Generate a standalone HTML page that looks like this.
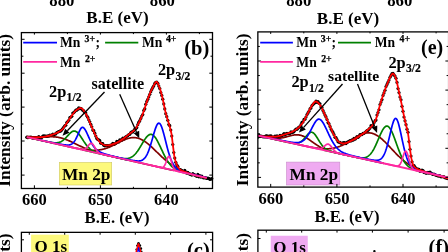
<!DOCTYPE html>
<html><head><meta charset="utf-8"><title>XPS Mn 2p</title>
<style>html,body{margin:0;padding:0;background:#fff;overflow:hidden}svg{display:block}</style>
</head><body>
<svg width="448" height="252" viewBox="0 0 448 252" font-family='"Liberation Serif", "DejaVu Serif", serif' font-weight="bold" fill="#000">
<rect width="448" height="252" fill="#fff"/>
<defs>
<clipPath id="clipb"><rect x="21.4" y="32.6" width="193.1" height="155.9"/></clipPath>
<clipPath id="clipe"><rect x="257.85" y="31.9" width="192.75" height="155.2"/></clipPath>
</defs>
<text x="61.8" y="6.2" font-size="16.7" text-anchor="middle" >880</text>
<text x="162.3" y="6.2" font-size="16.7" text-anchor="middle" >860</text>
<text x="117.5" y="23.0" font-size="17" text-anchor="middle" >B.E (eV)</text>
<text x="298.75" y="6.2" font-size="16.7" text-anchor="middle" >880</text>
<text x="399.75" y="6.2" font-size="16.7" text-anchor="middle" >860</text>
<text x="348" y="23.7" font-size="17" text-anchor="middle" >B.E (eV)</text>
<rect x="59.3" y="162.5" width="52.4" height="22.5" fill="#fdf97c" stroke="#cfc860" stroke-width="0.6"/>
<rect x="286.5" y="162.1" width="53.3" height="22.9" fill="#efaaf1" stroke="#c88aca" stroke-width="0.6"/>
<g clip-path="url(#clipb)">
<g fill="#000"><circle cx="26.80" cy="137.16" r="1.6"/><circle cx="27.80" cy="137.66" r="1.6"/><circle cx="28.80" cy="137.33" r="1.6"/><circle cx="29.80" cy="137.34" r="1.6"/><circle cx="30.80" cy="137.05" r="1.6"/><circle cx="31.80" cy="137.47" r="1.6"/><circle cx="32.80" cy="138.21" r="1.6"/><circle cx="33.80" cy="137.83" r="1.6"/><circle cx="34.80" cy="138.15" r="1.6"/><circle cx="35.80" cy="137.69" r="1.6"/><circle cx="36.80" cy="137.73" r="1.6"/><circle cx="37.80" cy="137.57" r="1.6"/><circle cx="38.80" cy="136.50" r="1.6"/><circle cx="39.80" cy="137.83" r="1.6"/><circle cx="40.80" cy="137.57" r="1.6"/><circle cx="41.80" cy="137.47" r="1.6"/><circle cx="42.80" cy="136.11" r="1.6"/><circle cx="43.80" cy="135.90" r="1.6"/><circle cx="44.80" cy="136.16" r="1.6"/><circle cx="45.80" cy="136.18" r="1.6"/><circle cx="46.80" cy="136.40" r="1.6"/><circle cx="47.80" cy="135.97" r="1.6"/><circle cx="48.80" cy="136.03" r="1.6"/><circle cx="49.80" cy="135.12" r="1.6"/><circle cx="50.80" cy="135.35" r="1.6"/><circle cx="51.80" cy="135.09" r="1.6"/><circle cx="52.80" cy="134.18" r="1.6"/><circle cx="53.80" cy="135.12" r="1.6"/><circle cx="54.80" cy="134.09" r="1.6"/><circle cx="55.80" cy="134.02" r="1.6"/><circle cx="56.80" cy="132.56" r="1.6"/><circle cx="57.80" cy="131.99" r="1.6"/><circle cx="58.80" cy="131.66" r="1.6"/><circle cx="59.80" cy="131.17" r="1.6"/><circle cx="60.80" cy="130.89" r="1.6"/><circle cx="61.80" cy="129.88" r="1.6"/><circle cx="62.80" cy="128.55" r="1.6"/><circle cx="63.80" cy="127.02" r="1.6"/><circle cx="64.80" cy="125.80" r="1.6"/><circle cx="65.80" cy="125.18" r="1.6"/><circle cx="66.80" cy="122.50" r="1.6"/><circle cx="67.80" cy="121.60" r="1.6"/><circle cx="68.80" cy="120.23" r="1.6"/><circle cx="69.80" cy="117.67" r="1.6"/><circle cx="70.80" cy="117.03" r="1.6"/><circle cx="71.80" cy="116.29" r="1.6"/><circle cx="72.80" cy="113.12" r="1.6"/><circle cx="73.80" cy="112.75" r="1.6"/><circle cx="74.80" cy="111.60" r="1.6"/><circle cx="75.80" cy="110.17" r="1.6"/><circle cx="76.80" cy="110.15" r="1.6"/><circle cx="77.80" cy="109.16" r="1.6"/><circle cx="78.80" cy="107.81" r="1.6"/><circle cx="79.80" cy="108.68" r="1.6"/><circle cx="80.80" cy="108.47" r="1.6"/><circle cx="81.80" cy="109.02" r="1.6"/><circle cx="82.80" cy="110.23" r="1.6"/><circle cx="83.80" cy="110.93" r="1.6"/><circle cx="84.80" cy="112.30" r="1.6"/><circle cx="85.80" cy="113.04" r="1.6"/><circle cx="86.80" cy="115.82" r="1.6"/><circle cx="87.80" cy="117.29" r="1.6"/><circle cx="88.80" cy="119.75" r="1.6"/><circle cx="89.80" cy="121.74" r="1.6"/><circle cx="90.80" cy="124.25" r="1.6"/><circle cx="91.80" cy="126.76" r="1.6"/><circle cx="92.80" cy="130.12" r="1.6"/><circle cx="93.80" cy="130.63" r="1.6"/><circle cx="94.80" cy="133.15" r="1.6"/><circle cx="95.80" cy="136.03" r="1.6"/><circle cx="96.80" cy="138.42" r="1.6"/><circle cx="97.80" cy="139.62" r="1.6"/><circle cx="98.80" cy="139.79" r="1.6"/><circle cx="99.80" cy="140.72" r="1.6"/><circle cx="100.80" cy="143.20" r="1.6"/><circle cx="101.80" cy="143.26" r="1.6"/><circle cx="102.80" cy="143.66" r="1.6"/><circle cx="103.80" cy="145.34" r="1.6"/><circle cx="104.80" cy="145.81" r="1.6"/><circle cx="105.80" cy="145.53" r="1.6"/><circle cx="106.80" cy="145.63" r="1.6"/><circle cx="107.80" cy="145.66" r="1.6"/><circle cx="108.80" cy="146.14" r="1.6"/><circle cx="109.80" cy="145.38" r="1.6"/><circle cx="110.80" cy="145.05" r="1.6"/><circle cx="111.80" cy="144.74" r="1.6"/><circle cx="112.80" cy="143.23" r="1.6"/><circle cx="113.80" cy="144.44" r="1.6"/><circle cx="114.80" cy="143.90" r="1.6"/><circle cx="115.80" cy="143.28" r="1.6"/><circle cx="116.80" cy="141.45" r="1.6"/><circle cx="117.80" cy="141.68" r="1.6"/><circle cx="118.80" cy="141.92" r="1.6"/><circle cx="119.80" cy="139.86" r="1.6"/><circle cx="120.80" cy="140.13" r="1.6"/><circle cx="121.80" cy="140.14" r="1.6"/><circle cx="122.80" cy="138.21" r="1.6"/><circle cx="123.80" cy="139.15" r="1.6"/><circle cx="124.80" cy="137.86" r="1.6"/><circle cx="125.80" cy="136.74" r="1.6"/><circle cx="126.80" cy="136.23" r="1.6"/><circle cx="127.80" cy="135.62" r="1.6"/><circle cx="128.80" cy="134.53" r="1.6"/><circle cx="129.80" cy="134.29" r="1.6"/><circle cx="130.80" cy="132.52" r="1.6"/><circle cx="131.80" cy="131.92" r="1.6"/><circle cx="132.80" cy="131.95" r="1.6"/><circle cx="133.80" cy="130.54" r="1.6"/><circle cx="134.80" cy="129.04" r="1.6"/><circle cx="135.80" cy="128.80" r="1.6"/><circle cx="136.80" cy="127.53" r="1.6"/><circle cx="137.80" cy="124.68" r="1.6"/><circle cx="138.80" cy="122.17" r="1.6"/><circle cx="139.80" cy="120.70" r="1.6"/><circle cx="140.80" cy="118.44" r="1.6"/><circle cx="141.80" cy="116.07" r="1.6"/><circle cx="142.80" cy="114.54" r="1.6"/><circle cx="143.80" cy="110.42" r="1.6"/><circle cx="144.80" cy="108.68" r="1.6"/><circle cx="145.80" cy="104.20" r="1.6"/><circle cx="146.80" cy="101.41" r="1.6"/><circle cx="147.80" cy="99.29" r="1.6"/><circle cx="148.80" cy="96.92" r="1.6"/><circle cx="149.80" cy="94.33" r="1.6"/><circle cx="150.80" cy="91.70" r="1.6"/><circle cx="151.80" cy="89.39" r="1.6"/><circle cx="152.80" cy="87.42" r="1.6"/><circle cx="153.80" cy="85.79" r="1.6"/><circle cx="154.80" cy="83.46" r="1.6"/><circle cx="155.80" cy="82.30" r="1.6"/><circle cx="156.80" cy="82.21" r="1.6"/><circle cx="157.80" cy="83.30" r="1.6"/><circle cx="158.80" cy="86.12" r="1.6"/><circle cx="159.80" cy="88.60" r="1.6"/><circle cx="160.80" cy="92.60" r="1.6"/><circle cx="161.80" cy="95.41" r="1.6"/><circle cx="162.80" cy="99.13" r="1.6"/><circle cx="163.80" cy="103.89" r="1.6"/><circle cx="164.80" cy="108.88" r="1.6"/><circle cx="165.80" cy="113.70" r="1.6"/><circle cx="166.80" cy="116.65" r="1.6"/><circle cx="167.80" cy="120.37" r="1.6"/><circle cx="168.80" cy="124.51" r="1.6"/><circle cx="169.80" cy="125.68" r="1.6"/><circle cx="170.80" cy="130.12" r="1.6"/><circle cx="171.80" cy="136.06" r="1.6"/><circle cx="172.80" cy="144.61" r="1.6"/><circle cx="173.80" cy="152.62" r="1.6"/><circle cx="174.80" cy="158.05" r="1.6"/><circle cx="175.80" cy="162.27" r="1.6"/><circle cx="176.80" cy="164.75" r="1.6"/><circle cx="177.80" cy="166.23" r="1.6"/><circle cx="178.80" cy="169.39" r="1.6"/><circle cx="179.80" cy="169.47" r="1.6"/><circle cx="180.80" cy="169.86" r="1.6"/><circle cx="181.80" cy="170.69" r="1.6"/><circle cx="182.80" cy="171.06" r="1.6"/><circle cx="183.80" cy="171.51" r="1.6"/><circle cx="184.80" cy="170.41" r="1.6"/><circle cx="185.80" cy="172.01" r="1.6"/><circle cx="186.80" cy="173.20" r="1.6"/><circle cx="187.80" cy="172.35" r="1.6"/><circle cx="188.80" cy="173.29" r="1.6"/><circle cx="189.80" cy="174.18" r="1.6"/><circle cx="190.80" cy="174.44" r="1.6"/><circle cx="191.80" cy="175.10" r="1.6"/><circle cx="192.80" cy="173.64" r="1.6"/><circle cx="193.80" cy="174.67" r="1.6"/><circle cx="194.80" cy="174.96" r="1.6"/><circle cx="195.80" cy="175.76" r="1.6"/><circle cx="196.80" cy="176.28" r="1.6"/><circle cx="197.80" cy="174.47" r="1.6"/><circle cx="198.80" cy="176.79" r="1.6"/><circle cx="199.80" cy="175.65" r="1.6"/><circle cx="200.80" cy="177.06" r="1.6"/><circle cx="201.80" cy="176.10" r="1.6"/><circle cx="202.80" cy="177.24" r="1.6"/><circle cx="203.80" cy="178.02" r="1.6"/><circle cx="204.80" cy="177.49" r="1.6"/><circle cx="205.80" cy="177.88" r="1.6"/><circle cx="206.80" cy="178.40" r="1.6"/><circle cx="207.80" cy="178.22" r="1.6"/><circle cx="208.80" cy="178.27" r="1.6"/><circle cx="209.80" cy="179.32" r="1.6"/><circle cx="210.80" cy="179.21" r="1.6"/><circle cx="211.80" cy="178.61" r="1.6"/></g>
<path d="M26.80,136.36 L27.30,136.41 L27.80,136.47 L28.30,136.52 L28.80,136.57 L29.30,136.62 L29.80,136.66 L30.30,136.71 L30.80,136.74 L31.30,136.78 L31.80,136.81 L32.30,136.84 L32.80,136.87 L33.30,136.89 L33.80,136.91 L34.30,136.93 L34.80,136.94 L35.30,136.95 L35.80,136.96 L36.30,136.97 L36.80,136.97 L37.30,136.97 L37.80,136.97 L38.30,136.97 L38.80,136.96 L39.30,136.96 L39.80,136.95 L40.30,136.93 L40.80,136.92 L41.30,136.91 L41.80,136.89 L42.30,136.87 L42.80,136.86 L43.30,136.84 L43.80,136.82 L44.30,136.80 L44.80,136.78 L45.30,136.77 L45.80,136.75 L46.30,136.73 L46.80,136.72 L47.30,136.71 L47.80,136.69 L48.30,136.69 L48.80,136.68 L49.30,136.68 L49.80,136.68 L50.30,136.68 L50.80,136.68 L51.30,136.69 L51.80,136.71 L52.30,136.73 L52.80,136.75 L53.30,136.78 L53.80,136.81 L54.30,136.85 L54.80,136.89 L55.30,136.94 L55.80,137.00 L56.30,137.06 L56.80,137.13 L57.30,137.20 L57.80,137.28 L58.30,137.37 L58.80,137.46 L59.30,137.57 L59.80,137.67 L60.30,137.79 L60.80,137.91 L61.30,138.03 L61.80,138.17 L62.30,138.31 L62.80,138.46 L63.30,138.61 L63.80,138.77 L64.30,138.93 L64.80,139.11 L65.30,139.28 L65.80,139.47 L66.30,139.66 L66.80,139.85 L67.30,140.05 L67.80,140.25 L68.30,140.46 L68.80,140.68 L69.30,140.89 L69.80,141.11 L70.30,141.34 L70.80,141.57 L71.30,141.80 L71.80,142.03 L72.30,142.27 L72.80,142.50 L73.30,142.74 L73.80,142.99 L74.30,143.23 L74.80,143.47 L75.30,143.72 L75.80,143.96 L76.30,144.20 L76.80,144.45 L77.30,144.69 L77.80,144.94 L78.30,145.18 L78.80,145.42 L79.30,145.66 L79.80,145.90 L80.30,146.14 L80.80,146.38 L81.30,146.61 L81.80,146.84 L82.30,147.07 L82.80,147.30 L83.30,147.52 L83.80,147.75 L84.30,147.97 L84.80,148.18 L85.30,148.40 L85.80,148.61 L86.30,148.82 L86.80,149.02 L87.30,149.22 L87.80,149.42 L88.30,149.62 L88.80,149.81 L89.30,150.00 L89.80,150.19 L90.30,150.38 L90.80,150.56 L91.30,150.74 L91.80,150.91 L92.30,151.09 L92.80,151.26 L93.30,151.42 L93.80,151.59 L94.30,151.75 L94.80,151.91 L95.30,152.07 L95.80,152.23 L96.30,152.38 L96.80,152.53 L97.30,152.68 L97.80,152.83 L98.30,152.97 L98.80,153.11 L99.30,153.25 L99.80,153.39 L100.30,153.53 L100.80,153.67 L101.30,153.80 L101.80,153.94 L102.30,154.07 L102.80,154.20 L103.30,154.33 L103.80,154.46 L104.30,154.59 L104.80,154.71 L105.30,154.84 L105.80,154.96 L106.30,155.09 L106.80,155.21 L107.30,155.33 L107.80,155.45 L108.30,155.57 L108.80,155.69 L109.30,155.81 L109.80,155.93 L110.30,156.05 L110.80,156.17 L111.30,156.29 L111.80,156.40 L112.30,156.52 L112.80,156.64 L113.30,156.75 L113.80,156.87 L114.30,156.99 L114.80,157.10 L115.30,157.22 L115.80,157.33 L116.30,157.45 L116.80,157.56 L117.30,157.68 L117.80,157.79 L118.30,157.91 L118.80,158.02 L119.30,158.14 L119.80,158.25 L120.30,158.36 L120.80,158.48 L121.30,158.59 L121.80,158.70 L122.30,158.82 L122.80,158.93 L123.30,159.05 L123.80,159.16 L124.30,159.27 L124.80,159.39 L125.30,159.50 L125.80,159.61 L126.30,159.73 L126.80,159.84 L127.30,159.95 L127.80,160.07 L128.30,160.18 L128.80,160.29 L129.30,160.41 L129.80,160.52 L130.30,160.63 L130.80,160.75 L131.30,160.86 L131.80,160.97 L132.30,161.09 L132.80,161.20 L133.30,161.31 L133.80,161.43 L134.30,161.54 L134.80,161.65 L135.30,161.77 L135.80,161.88 L136.30,161.99 L136.80,162.11 L137.30,162.22 L137.80,162.33 L138.30,162.45 L138.80,162.56 L139.30,162.67 L139.80,162.78 L140.30,162.90 L140.80,163.01 L141.30,163.12 L141.80,163.24 L142.30,163.35 L142.80,163.46 L143.30,163.58 L143.80,163.69 L144.30,163.80 L144.80,163.92 L145.30,164.03 L145.80,164.14 L146.30,164.26 L146.80,164.37 L147.30,164.48 L147.80,164.60 L148.30,164.71 L148.80,164.82 L149.30,164.94 L149.80,165.05 L150.30,165.16 L150.80,165.28 L151.30,165.39 L151.80,165.50 L152.30,165.62 L152.80,165.73 L153.30,165.84 L153.80,165.95 L154.30,166.07 L154.80,166.18 L155.30,166.29 L155.80,166.41 L156.30,166.52 L156.80,166.63 L157.30,166.75 L157.80,166.86 L158.30,166.97 L158.80,167.09 L159.30,167.20 L159.80,167.31 L160.30,167.43 L160.80,167.54 L161.30,167.65 L161.80,167.77 L162.30,167.88 L162.80,167.99 L163.30,168.11 L163.80,168.22 L164.30,168.33 L164.80,168.45 L165.30,168.56 L165.80,168.67 L166.30,168.78 L166.80,168.90 L167.30,169.01 L167.80,169.12 L168.30,169.24 L168.80,169.35 L169.30,169.46 L169.80,169.58 L170.30,169.69 L170.80,169.80 L171.30,169.92 L171.80,170.03 L172.30,170.14 L172.80,170.26 L173.30,170.37 L173.80,170.48" fill="none" stroke="#800000" stroke-width="1.7" stroke-linejoin="round"/>
<path d="M26.80,137.20 L27.30,137.31 L27.80,137.43 L28.30,137.54 L28.80,137.65 L29.30,137.77 L29.80,137.88 L30.30,137.99 L30.80,138.11 L31.30,138.22 L31.80,138.33 L32.30,138.45 L32.80,138.56 L33.30,138.67 L33.80,138.78 L34.30,138.90 L34.80,139.01 L35.30,139.12 L35.80,139.24 L36.30,139.35 L36.80,139.46 L37.30,139.58 L37.80,139.69 L38.30,139.80 L38.80,139.92 L39.30,140.03 L39.80,140.14 L40.30,140.26 L40.80,140.37 L41.30,140.48 L41.80,140.60 L42.30,140.71 L42.80,140.82 L43.30,140.94 L43.80,141.05 L44.30,141.16 L44.80,141.28 L45.30,141.39 L45.80,141.50 L46.30,141.61 L46.80,141.73 L47.30,141.84 L47.80,141.95 L48.30,142.07 L48.80,142.18 L49.30,142.29 L49.80,142.41 L50.30,142.52 L50.80,142.63 L51.30,142.75 L51.80,142.86 L52.30,142.97 L52.80,143.08 L53.30,143.20 L53.80,143.31 L54.30,143.42 L54.80,143.54 L55.30,143.65 L55.80,143.76 L56.30,143.87 L56.80,143.99 L57.30,144.10 L57.80,144.21 L58.30,144.33 L58.80,144.44 L59.30,144.55 L59.80,144.66 L60.30,144.77 L60.80,144.89 L61.30,145.00 L61.80,145.11 L62.30,145.22 L62.80,145.33 L63.30,145.45 L63.80,145.56 L64.30,145.67 L64.80,145.78 L65.30,145.89 L65.80,146.00 L66.30,146.11 L66.80,146.22 L67.30,146.33 L67.80,146.44 L68.30,146.55 L68.80,146.66 L69.30,146.77 L69.80,146.87 L70.30,146.98 L70.80,147.09 L71.30,147.19 L71.80,147.30 L72.30,147.40 L72.80,147.51 L73.30,147.61 L73.80,147.72 L74.30,147.82 L74.80,147.92 L75.30,148.02 L75.80,148.12 L76.30,148.22 L76.80,148.32 L77.30,148.41 L77.80,148.51 L78.30,148.60 L78.80,148.70 L79.30,148.79 L79.80,148.88 L80.30,148.97 L80.80,149.05 L81.30,149.14 L81.80,149.22 L82.30,149.30 L82.80,149.38 L83.30,149.45 L83.80,149.53 L84.30,149.60 L84.80,149.67 L85.30,149.74 L85.80,149.80 L86.30,149.86 L86.80,149.92 L87.30,149.97 L87.80,150.02 L88.30,150.07 L88.80,150.11 L89.30,150.15 L89.80,150.19 L90.30,150.22 L90.80,150.25 L91.30,150.27 L91.80,150.29 L92.30,150.31 L92.80,150.32 L93.30,150.32 L93.80,150.32 L94.30,150.31 L94.80,150.30 L95.30,150.28 L95.80,150.26 L96.30,150.23 L96.80,150.20 L97.30,150.16 L97.80,150.11 L98.30,150.06 L98.80,150.00 L99.30,149.93 L99.80,149.86 L100.30,149.78 L100.80,149.69 L101.30,149.60 L101.80,149.50 L102.30,149.39 L102.80,149.27 L103.30,149.15 L103.80,149.02 L104.30,148.89 L104.80,148.74 L105.30,148.59 L105.80,148.44 L106.30,148.27 L106.80,148.10 L107.30,147.93 L107.80,147.74 L108.30,147.55 L108.80,147.36 L109.30,147.15 L109.80,146.94 L110.30,146.73 L110.80,146.51 L111.30,146.28 L111.80,146.05 L112.30,145.82 L112.80,145.58 L113.30,145.34 L113.80,145.09 L114.30,144.84 L114.80,144.58 L115.30,144.33 L115.80,144.07 L116.30,143.81 L116.80,143.55 L117.30,143.29 L117.80,143.02 L118.30,142.76 L118.80,142.50 L119.30,142.24 L119.80,141.98 L120.30,141.72 L120.80,141.47 L121.30,141.22 L121.80,140.97 L122.30,140.73 L122.80,140.49 L123.30,140.26 L123.80,140.04 L124.30,139.82 L124.80,139.60 L125.30,139.40 L125.80,139.20 L126.30,139.02 L126.80,138.84 L127.30,138.67 L127.80,138.51 L128.30,138.37 L128.80,138.23 L129.30,138.11 L129.80,138.00 L130.30,137.90 L130.80,137.81 L131.30,137.74 L131.80,137.68 L132.30,137.64 L132.80,137.61 L133.30,137.59 L133.80,137.59 L134.30,137.60 L134.80,137.63 L135.30,137.68 L135.80,137.74 L136.30,137.82 L136.80,137.91 L137.30,138.02 L137.80,138.14 L138.30,138.28 L138.80,138.44 L139.30,138.61 L139.80,138.80 L140.30,139.00 L140.80,139.22 L141.30,139.45 L141.80,139.70 L142.30,139.96 L142.80,140.24 L143.30,140.53 L143.80,140.83 L144.30,141.15 L144.80,141.48 L145.30,141.82 L145.80,142.18 L146.30,142.54 L146.80,142.92 L147.30,143.31 L147.80,143.71 L148.30,144.12 L148.80,144.53 L149.30,144.96 L149.80,145.39 L150.30,145.84 L150.80,146.28 L151.30,146.74 L151.80,147.20 L152.30,147.66 L152.80,148.14 L153.30,148.61 L153.80,149.09 L154.30,149.57 L154.80,150.05 L155.30,150.54 L155.80,151.03 L156.30,151.52 L156.80,152.01 L157.30,152.49 L157.80,152.98 L158.30,153.47 L158.80,153.96 L159.30,154.44 L159.80,154.92 L160.30,155.40 L160.80,155.87 L161.30,156.35 L161.80,156.82 L162.30,157.28 L162.80,157.74 L163.30,158.19 L163.80,158.64 L164.30,159.09 L164.80,159.53 L165.30,159.96 L165.80,160.39 L166.30,160.81 L166.80,161.22 L167.30,161.63 L167.80,162.03 L168.30,162.42 L168.80,162.81 L169.30,163.19 L169.80,163.56 L170.30,163.93 L170.80,164.29 L171.30,164.64 L171.80,164.99 L172.30,165.33 L172.80,165.66 L173.30,165.98 L173.80,166.30 L174.30,166.61 L174.80,166.91 L175.30,167.21 L175.80,167.50 L176.30,167.78 L176.80,168.06 L177.30,168.33 L177.80,168.60 L178.30,168.86 L178.80,169.11 L179.30,169.36 L179.80,169.60 L180.30,169.83 L180.80,170.06 L181.30,170.29 L181.80,170.51 L182.30,170.72 L182.80,170.93 L183.30,171.14 L183.80,171.34 L184.30,171.54 L184.80,171.73 L185.30,171.92 L185.80,172.10 L186.30,172.29 L186.80,172.46 L187.30,172.64 L187.80,172.81 L188.30,172.98 L188.80,173.14 L189.30,173.30 L189.80,173.46 L190.30,173.62 L190.80,173.77 L191.30,173.92 L191.80,174.07 L192.30,174.22 L192.80,174.36 L193.30,174.51 L193.80,174.65 L194.30,174.79 L194.80,174.92 L195.30,175.06 L195.80,175.20 L196.30,175.33 L196.80,175.46 L197.30,175.59 L197.80,175.72 L198.30,175.85 L198.80,175.98 L199.30,176.10 L199.80,176.23 L200.30,176.35 L200.80,176.48 L201.30,176.60 L201.80,176.72 L202.30,176.84 L202.80,176.96 L203.30,177.08 L203.80,177.20 L204.30,177.32 L204.80,177.44 L205.30,177.56 L205.80,177.68 L206.30,177.80 L206.80,177.91" fill="none" stroke="#800000" stroke-width="1.7" stroke-linejoin="round"/>
<path d="M26.80,137.14 L27.30,137.25 L27.80,137.37 L28.30,137.48 L28.80,137.59 L29.30,137.70 L29.80,137.81 L30.30,137.93 L30.80,138.04 L31.30,138.15 L31.80,138.26 L32.30,138.37 L32.80,138.48 L33.30,138.60 L33.80,138.71 L34.30,138.82 L34.80,138.93 L35.30,139.04 L35.80,139.15 L36.30,139.26 L36.80,139.37 L37.30,139.49 L37.80,139.60 L38.30,139.71 L38.80,139.82 L39.30,139.93 L39.80,140.04 L40.30,140.15 L40.80,140.26 L41.30,140.37 L41.80,140.48 L42.30,140.59 L42.80,140.70 L43.30,140.81 L43.80,140.91 L44.30,141.02 L44.80,141.13 L45.30,141.24 L45.80,141.34 L46.30,141.45 L46.80,141.55 L47.30,141.66 L47.80,141.76 L48.30,141.86 L48.80,141.96 L49.30,142.05 L49.80,142.15 L50.30,142.24 L50.80,142.33 L51.30,142.41 L51.80,142.49 L52.30,142.56 L52.80,142.62 L53.30,142.68 L53.80,142.73 L54.30,142.77 L54.80,142.79 L55.30,142.81 L55.80,142.81 L56.30,142.79 L56.80,142.76 L57.30,142.71 L57.80,142.64 L58.30,142.54 L58.80,142.42 L59.30,142.28 L59.80,142.11 L60.30,141.91 L60.80,141.69 L61.30,141.43 L61.80,141.14 L62.30,140.82 L62.80,140.47 L63.30,140.09 L63.80,139.68 L64.30,139.24 L64.80,138.78 L65.30,138.29 L65.80,137.78 L66.30,137.26 L66.80,136.72 L67.30,136.18 L67.80,135.63 L68.30,135.08 L68.80,134.55 L69.30,134.02 L69.80,133.52 L70.30,133.05 L70.80,132.61 L71.30,132.21 L71.80,131.86 L72.30,131.57 L72.80,131.33 L73.30,131.16 L73.80,131.06 L74.30,131.03 L74.80,131.07 L75.30,131.19 L75.80,131.39 L76.30,131.66 L76.80,132.00 L77.30,132.42 L77.80,132.89 L78.30,133.42 L78.80,134.01 L79.30,134.64 L79.80,135.31 L80.30,136.02 L80.80,136.75 L81.30,137.50 L81.80,138.27 L82.30,139.04 L82.80,139.82 L83.30,140.59 L83.80,141.35 L84.30,142.10 L84.80,142.83 L85.30,143.54 L85.80,144.22 L86.30,144.88 L86.80,145.51 L87.30,146.11 L87.80,146.68 L88.30,147.22 L88.80,147.73 L89.30,148.21 L89.80,148.66 L90.30,149.08 L90.80,149.47 L91.30,149.83 L91.80,150.17 L92.30,150.49 L92.80,150.78 L93.30,151.05 L93.80,151.31 L94.30,151.55 L94.80,151.77 L95.30,151.98 L95.80,152.18 L96.30,152.36 L96.80,152.54 L97.30,152.71 L97.80,152.87 L98.30,153.02 L98.80,153.17 L99.30,153.31 L99.80,153.45 L100.30,153.59 L100.80,153.72 L101.30,153.85 L101.80,153.98 L102.30,154.10 L102.80,154.23 L103.30,154.35 L103.80,154.47 L104.30,154.59 L104.80,154.71 L105.30,154.83 L105.80,154.95 L106.30,155.07 L106.80,155.18 L107.30,155.30 L107.80,155.42 L108.30,155.54 L108.80,155.65 L109.30,155.77 L109.80,155.89 L110.30,156.00 L110.80,156.12 L111.30,156.23 L111.80,156.35 L112.30,156.46 L112.80,156.58 L113.30,156.70 L113.80,156.81 L114.30,156.93 L114.80,157.04 L115.30,157.16 L115.80,157.27 L116.30,157.39 L116.80,157.50 L117.30,157.62 L117.80,157.73 L118.30,157.85 L118.80,157.96 L119.30,158.08 L119.80,158.19 L120.30,158.31 L120.80,158.42 L121.30,158.53 L121.80,158.65 L122.30,158.76 L122.80,158.88 L123.30,158.99 L123.80,159.11 L124.30,159.22 L124.80,159.33 L125.30,159.45 L125.80,159.56 L126.30,159.68 L126.80,159.79 L127.30,159.91 L127.80,160.02 L128.30,160.13 L128.80,160.25" fill="none" stroke="#008000" stroke-width="1.7" stroke-linejoin="round"/>
<path d="M82.50,149.81 L83.00,149.92 L83.50,150.04 L84.00,150.15 L84.50,150.26 L85.00,150.38 L85.50,150.49 L86.00,150.60 L86.50,150.72 L87.00,150.83 L87.50,150.94 L88.00,151.06 L88.50,151.17 L89.00,151.28 L89.50,151.40 L90.00,151.51 L90.50,151.62 L91.00,151.74 L91.50,151.85 L92.00,151.96 L92.50,152.08 L93.00,152.19 L93.50,152.30 L94.00,152.42 L94.50,152.53 L95.00,152.64 L95.50,152.75 L96.00,152.87 L96.50,152.98 L97.00,153.09 L97.50,153.21 L98.00,153.32 L98.50,153.43 L99.00,153.55 L99.50,153.66 L100.00,153.77 L100.50,153.89 L101.00,154.00 L101.50,154.11 L102.00,154.23 L102.50,154.34 L103.00,154.45 L103.50,154.57 L104.00,154.68 L104.50,154.79 L105.00,154.91 L105.50,155.02 L106.00,155.13 L106.50,155.24 L107.00,155.36 L107.50,155.47 L108.00,155.58 L108.50,155.70 L109.00,155.81 L109.50,155.92 L110.00,156.03 L110.50,156.15 L111.00,156.26 L111.50,156.37 L112.00,156.48 L112.50,156.59 L113.00,156.70 L113.50,156.81 L114.00,156.92 L114.50,157.03 L115.00,157.14 L115.50,157.25 L116.00,157.35 L116.50,157.46 L117.00,157.56 L117.50,157.66 L118.00,157.76 L118.50,157.86 L119.00,157.95 L119.50,158.04 L120.00,158.13 L120.50,158.21 L121.00,158.29 L121.50,158.36 L122.00,158.43 L122.50,158.49 L123.00,158.54 L123.50,158.59 L124.00,158.62 L124.50,158.64 L125.00,158.65 L125.50,158.65 L126.00,158.63 L126.50,158.60 L127.00,158.55 L127.50,158.49 L128.00,158.40 L128.50,158.29 L129.00,158.16 L129.50,158.00 L130.00,157.82 L130.50,157.61 L131.00,157.37 L131.50,157.10 L132.00,156.79 L132.50,156.46 L133.00,156.09 L133.50,155.68 L134.00,155.24 L134.50,154.77 L135.00,154.26 L135.50,153.71 L136.00,153.12 L136.50,152.50 L137.00,151.85 L137.50,151.17 L138.00,150.45 L138.50,149.71 L139.00,148.94 L139.50,148.14 L140.00,147.33 L140.50,146.50 L141.00,145.66 L141.50,144.82 L142.00,143.97 L142.50,143.12 L143.00,142.28 L143.50,141.46 L144.00,140.65 L144.50,139.87 L145.00,139.12 L145.50,138.41 L146.00,137.73 L146.50,137.11 L147.00,136.54 L147.50,136.02 L148.00,135.57 L148.50,135.18 L149.00,134.87 L149.50,134.62 L150.00,134.46 L150.50,134.37 L151.00,134.36 L151.50,134.43 L152.00,134.59 L152.50,134.82 L153.00,135.14 L153.50,135.53 L154.00,136.00 L154.50,136.54 L155.00,137.15 L155.50,137.83 L156.00,138.57 L156.50,139.37 L157.00,140.22 L157.50,141.12 L158.00,142.06 L158.50,143.04 L159.00,144.05 L159.50,145.08 L160.00,146.13 L160.50,147.20 L161.00,148.27 L161.50,149.34 L162.00,150.42 L162.50,151.48 L163.00,152.54 L163.50,153.58 L164.00,154.60 L164.50,155.59 L165.00,156.56 L165.50,157.51 L166.00,158.42 L166.50,159.30 L167.00,160.14 L167.50,160.95 L168.00,161.73 L168.50,162.47 L169.00,163.17 L169.50,163.84 L170.00,164.47 L170.50,165.06 L171.00,165.62 L171.50,166.15 L172.00,166.65 L172.50,167.12 L173.00,167.55 L173.50,167.96 L174.00,168.35 L174.50,168.70 L175.00,169.04 L175.50,169.35 L176.00,169.65 L176.50,169.92 L177.00,170.18 L177.50,170.42 L178.00,170.65 L178.50,170.87 L179.00,171.07 L179.50,171.26 L180.00,171.45 L180.50,171.62 L181.00,171.79 L181.50,171.95 L182.00,172.10 L182.50,172.25 L183.00,172.40 L183.50,172.53 L184.00,172.67 L184.50,172.80 L185.00,172.93 L185.50,173.06 L186.00,173.18 L186.50,173.31 L187.00,173.43 L187.50,173.55 L188.00,173.67 L188.50,173.79 L189.00,173.91 L189.50,174.02 L190.00,174.14 L190.50,174.25 L191.00,174.37 L191.50,174.48 L192.00,174.60 L192.50,174.71 L193.00,174.83 L193.50,174.94 L194.00,175.05 L194.50,175.17 L195.00,175.28 L195.50,175.40 L196.00,175.51 L196.50,175.62 L197.00,175.74 L197.50,175.85 L198.00,175.96 L198.50,176.08 L199.00,176.19 L199.50,176.30 L200.00,176.41 L200.50,176.53 L201.00,176.64 L201.50,176.75 L202.00,176.87 L202.50,176.98 L203.00,177.09 L203.50,177.21 L204.00,177.32 L204.50,177.43 L205.00,177.55 L205.50,177.66 L206.00,177.77 L206.50,177.89" fill="none" stroke="#008000" stroke-width="1.7" stroke-linejoin="round"/>
<path d="M37.70,139.51 L38.20,139.62 L38.70,139.73 L39.20,139.84 L39.70,139.95 L40.20,140.06 L40.70,140.17 L41.20,140.28 L41.70,140.38 L42.20,140.49 L42.70,140.60 L43.20,140.71 L43.70,140.82 L44.20,140.93 L44.70,141.03 L45.20,141.14 L45.70,141.25 L46.20,141.36 L46.70,141.46 L47.20,141.57 L47.70,141.68 L48.20,141.78 L48.70,141.89 L49.20,141.99 L49.70,142.10 L50.20,142.20 L50.70,142.31 L51.20,142.41 L51.70,142.51 L52.20,142.62 L52.70,142.72 L53.20,142.82 L53.70,142.92 L54.20,143.02 L54.70,143.12 L55.20,143.22 L55.70,143.32 L56.20,143.42 L56.70,143.51 L57.20,143.61 L57.70,143.71 L58.20,143.80 L58.70,143.89 L59.20,143.98 L59.70,144.08 L60.20,144.16 L60.70,144.25 L61.20,144.34 L61.70,144.42 L62.20,144.50 L62.70,144.58 L63.20,144.65 L63.70,144.73 L64.20,144.79 L64.70,144.85 L65.20,144.91 L65.70,144.96 L66.20,145.00 L66.70,145.03 L67.20,145.04 L67.70,145.04 L68.20,145.02 L68.70,144.98 L69.20,144.91 L69.70,144.81 L70.20,144.67 L70.70,144.50 L71.20,144.27 L71.70,143.99 L72.20,143.65 L72.70,143.24 L73.20,142.76 L73.70,142.21 L74.20,141.58 L74.70,140.87 L75.20,140.08 L75.70,139.20 L76.20,138.26 L76.70,137.25 L77.20,136.18 L77.70,135.07 L78.20,133.94 L78.70,132.80 L79.20,131.69 L79.70,130.63 L80.20,129.65 L80.70,128.80 L81.20,128.12 L81.70,127.63 L82.20,127.37 L82.70,127.36 L83.20,127.55 L83.70,127.91 L84.20,128.41 L84.70,129.06 L85.20,129.82 L85.70,130.69 L86.20,131.65 L86.70,132.67 L87.20,133.74 L87.70,134.84 L88.20,135.95 L88.70,137.06 L89.20,138.17 L89.70,139.25 L90.20,140.30 L90.70,141.32 L91.20,142.30 L91.70,143.23 L92.20,144.11 L92.70,144.94 L93.20,145.72 L93.70,146.45 L94.20,147.13 L94.70,147.76 L95.20,148.34 L95.70,148.87 L96.20,149.36 L96.70,149.81 L97.20,150.23 L97.70,150.61 L98.20,150.96 L98.70,151.28 L99.20,151.58 L99.70,151.86 L100.20,152.11 L100.70,152.35 L101.20,152.58 L101.70,152.79 L102.20,152.99 L102.70,153.18 L103.20,153.36 L103.70,153.53 L104.20,153.70 L104.70,153.87 L105.20,154.02 L105.70,154.18 L106.20,154.33 L106.70,154.48 L107.20,154.62 L107.70,154.77 L108.20,154.91 L108.70,155.05 L109.20,155.19 L109.70,155.32 L110.20,155.46 L110.70,155.59 L111.20,155.73 L111.70,155.86 L112.20,155.99 L112.70,156.12 L113.20,156.25 L113.70,156.38 L114.20,156.51 L114.70,156.63 L115.20,156.76 L115.70,156.89 L116.20,157.01 L116.70,157.14 L117.20,157.26 L117.70,157.39 L118.20,157.51 L118.70,157.63 L119.20,157.76 L119.70,157.88 L120.20,158.00 L120.70,158.12 L121.20,158.24 L121.70,158.37 L122.20,158.49 L122.70,158.61 L123.20,158.73 L123.70,158.85 L124.20,158.97 L124.70,159.09 L125.20,159.21 L125.70,159.33 L126.20,159.45 L126.70,159.56 L127.20,159.68 L127.70,159.80" fill="none" stroke="#0000ff" stroke-width="1.7" stroke-linejoin="round"/>
<path d="M111.10,156.05 L111.60,156.16 L112.10,156.27 L112.60,156.37 L113.10,156.48 L113.60,156.59 L114.10,156.70 L114.60,156.80 L115.10,156.91 L115.60,157.02 L116.10,157.12 L116.60,157.23 L117.10,157.34 L117.60,157.44 L118.10,157.55 L118.60,157.65 L119.10,157.76 L119.60,157.86 L120.10,157.97 L120.60,158.07 L121.10,158.18 L121.60,158.28 L122.10,158.38 L122.60,158.49 L123.10,158.59 L123.60,158.69 L124.10,158.79 L124.60,158.89 L125.10,158.99 L125.60,159.09 L126.10,159.19 L126.60,159.29 L127.10,159.39 L127.60,159.49 L128.10,159.59 L128.60,159.68 L129.10,159.78 L129.60,159.87 L130.10,159.96 L130.60,160.05 L131.10,160.14 L131.60,160.23 L132.10,160.32 L132.60,160.40 L133.10,160.48 L133.60,160.56 L134.10,160.64 L134.60,160.71 L135.10,160.77 L135.60,160.83 L136.10,160.88 L136.60,160.93 L137.10,160.96 L137.60,160.98 L138.10,160.99 L138.60,160.98 L139.10,160.95 L139.60,160.90 L140.10,160.82 L140.60,160.72 L141.10,160.57 L141.60,160.39 L142.10,160.17 L142.60,159.90 L143.10,159.57 L143.60,159.18 L144.10,158.73 L144.60,158.21 L145.10,157.61 L145.60,156.92 L146.10,156.15 L146.60,155.29 L147.10,154.33 L147.60,153.28 L148.10,152.13 L148.60,150.88 L149.10,149.54 L149.60,148.11 L150.10,146.59 L150.60,145.00 L151.10,143.34 L151.60,141.63 L152.10,139.88 L152.60,138.11 L153.10,136.33 L153.60,134.57 L154.10,132.84 L154.60,131.18 L155.10,129.61 L155.60,128.15 L156.10,126.83 L156.60,125.68 L157.10,124.71 L157.60,123.96 L158.10,123.44 L158.60,123.17 L159.10,123.15 L159.60,123.40 L160.10,123.90 L160.60,124.64 L161.10,125.62 L161.60,126.81 L162.10,128.19 L162.60,129.73 L163.10,131.42 L163.60,133.22 L164.10,135.11 L164.60,137.06 L165.10,139.05 L165.60,141.05 L166.10,143.05 L166.60,145.03 L167.10,146.97 L167.60,148.85 L168.10,150.67 L168.60,152.41 L169.10,154.07 L169.60,155.63 L170.10,157.11 L170.60,158.48 L171.10,159.76 L171.60,160.95 L172.10,162.04 L172.60,163.03 L173.10,163.94 L173.60,164.77 L174.10,165.52 L174.60,166.20 L175.10,166.82 L175.60,167.37 L176.10,167.87 L176.60,168.32 L177.10,168.73 L177.60,169.09 L178.10,169.43 L178.60,169.73 L179.10,170.01 L179.60,170.26 L180.10,170.50 L180.60,170.72 L181.10,170.92 L181.60,171.12 L182.10,171.30 L182.60,171.47 L183.10,171.64 L183.60,171.80 L184.10,171.96 L184.60,172.11 L185.10,172.26 L185.60,172.40 L186.10,172.54 L186.60,172.68 L187.10,172.82 L187.60,172.96 L188.10,173.09 L188.60,173.23 L189.10,173.36 L189.60,173.49 L190.10,173.62 L190.60,173.75 L191.10,173.88 L191.60,174.01 L192.10,174.14 L192.60,174.26 L193.10,174.39 L193.60,174.52 L194.10,174.64 L194.60,174.77 L195.10,174.89 L195.60,175.02 L196.10,175.14 L196.60,175.26 L197.10,175.39 L197.60,175.51 L198.10,175.63 L198.60,175.75 L199.10,175.87 L199.60,175.99 L200.10,176.11 L200.60,176.24 L201.10,176.36 L201.60,176.48 L202.10,176.60 L202.60,176.72 L203.10,176.84 L203.60,176.95 L204.10,177.07 L204.60,177.19 L205.10,177.31 L205.60,177.43 L206.10,177.55 L206.60,177.67" fill="none" stroke="#0000ff" stroke-width="1.7" stroke-linejoin="round"/>
<path d="M67.50,146.42 L68.00,146.53 L68.50,146.64 L69.00,146.75 L69.50,146.87 L70.00,146.98 L70.50,147.09 L71.00,147.21 L71.50,147.32 L72.00,147.43 L72.50,147.55 L73.00,147.66 L73.50,147.77 L74.00,147.89 L74.50,148.00 L75.00,148.11 L75.50,148.23 L76.00,148.34 L76.50,148.45 L77.00,148.57 L77.50,148.68 L78.00,148.79 L78.50,148.90 L79.00,149.01 L79.50,149.12 L80.00,149.22 L80.50,149.31 L81.00,149.40 L81.50,149.47 L82.00,149.53 L82.50,149.56 L83.00,149.55 L83.50,149.51 L84.00,149.41 L84.50,149.25 L85.00,149.01 L85.50,148.70 L86.00,148.31 L86.50,147.84 L87.00,147.29 L87.50,146.69 L88.00,146.06 L88.50,145.41 L89.00,144.80 L89.50,144.25 L90.00,143.80 L90.50,143.48 L91.00,143.33 L91.50,143.35 L92.00,143.55 L92.50,143.94 L93.00,144.48 L93.50,145.15 L94.00,145.93 L94.50,146.77 L95.00,147.64 L95.50,148.50 L96.00,149.33 L96.50,150.10 L97.00,150.80 L97.50,151.42 L98.00,151.96 L98.50,152.42 L99.00,152.80 L99.50,153.13 L100.00,153.40 L100.50,153.63 L101.00,153.83 L101.50,154.00 L102.00,154.15 L102.50,154.29 L103.00,154.43 L103.50,154.55 L104.00,154.67 L104.50,154.79 L105.00,154.90 L105.50,155.02 L106.00,155.13 L106.50,155.24 L107.00,155.36 L107.50,155.47 L108.00,155.58 L108.50,155.70 L109.00,155.81 L109.50,155.92 L110.00,156.04 L110.50,156.15 L111.00,156.26 L111.50,156.38 L112.00,156.49 L112.50,156.60 L113.00,156.72 L113.50,156.83 L114.00,156.94 L114.50,157.06 L115.00,157.17 L115.50,157.28" fill="none" stroke="#ff28a0" stroke-width="1.7" stroke-linejoin="round"/>
<path d="M151.00,165.32 L151.50,165.43 L152.00,165.55 L152.50,165.66 L153.00,165.77 L153.50,165.89 L154.00,166.00 L154.50,166.11 L155.00,166.23 L155.50,166.34 L156.00,166.45 L156.50,166.57 L157.00,166.68 L157.50,166.79 L158.00,166.90 L158.50,167.02 L159.00,167.13 L159.50,167.23 L160.00,167.33 L160.50,167.42 L161.00,167.49 L161.50,167.53 L162.00,167.51 L162.50,167.42 L163.00,167.23 L163.50,166.89 L164.00,166.37 L164.50,165.64 L165.00,164.70 L165.50,163.54 L166.00,162.22 L166.50,160.80 L167.00,159.39 L167.50,158.12 L168.00,157.13 L168.50,156.53 L169.00,156.40 L169.50,156.76 L170.00,157.59 L170.50,158.80 L171.00,160.30 L171.50,161.93 L172.00,163.58 L172.50,165.13 L173.00,166.51 L173.50,167.68 L174.00,168.63 L174.50,169.38 L175.00,169.94 L175.50,170.37 L176.00,170.68 L176.50,170.92 L177.00,171.11 L177.50,171.27 L178.00,171.41 L178.50,171.53 L179.00,171.65 L179.50,171.77 L180.00,171.89 L180.50,172.00 L181.00,172.11 L181.50,172.23 L182.00,172.34 L182.50,172.45 L183.00,172.57 L183.50,172.68 L184.00,172.79 L184.50,172.91 L185.00,173.02 L185.50,173.13 L186.00,173.25 L186.50,173.36 L187.00,173.47" fill="none" stroke="#ff28a0" stroke-width="1.7" stroke-linejoin="round"/>
<path d="M26.80,137.30 L27.30,137.34 L27.80,137.38 L28.30,137.42 L28.80,137.45 L29.30,137.48 L29.80,137.51 L30.30,137.54 L30.80,137.56 L31.30,137.57 L31.80,137.59 L32.30,137.60 L32.80,137.60 L33.30,137.60 L33.80,137.60 L34.30,137.59 L34.80,137.58 L35.30,137.57 L35.80,137.55 L36.30,137.54 L36.80,137.52 L37.30,137.49 L37.80,137.47 L38.30,137.44 L38.80,137.42 L39.30,137.39 L39.80,137.36 L40.30,137.33 L40.80,137.29 L41.30,137.25 L41.80,137.19 L42.30,137.12 L42.80,137.04 L43.30,136.95 L43.80,136.86 L44.30,136.75 L44.80,136.65 L45.30,136.55 L45.80,136.44 L46.30,136.34 L46.80,136.23 L47.30,136.12 L47.80,136.00 L48.30,135.87 L48.80,135.75 L49.30,135.61 L49.80,135.47 L50.30,135.33 L50.80,135.18 L51.30,135.03 L51.80,134.87 L52.30,134.71 L52.80,134.54 L53.30,134.36 L53.80,134.18 L54.30,133.99 L54.80,133.79 L55.30,133.58 L55.80,133.36 L56.30,133.13 L56.80,132.90 L57.30,132.65 L57.80,132.39 L58.30,132.13 L58.80,131.84 L59.30,131.55 L59.80,131.23 L60.30,130.90 L60.80,130.54 L61.30,130.16 L61.80,129.75 L62.30,129.31 L62.80,128.80 L63.30,128.21 L63.80,127.55 L64.30,126.83 L64.80,126.08 L65.30,125.30 L65.80,124.51 L66.30,123.72 L66.80,122.94 L67.30,122.19 L67.80,121.47 L68.30,120.74 L68.80,119.99 L69.30,119.24 L69.80,118.49 L70.30,117.74 L70.80,117.00 L71.30,116.28 L71.80,115.57 L72.30,114.88 L72.80,114.23 L73.30,113.58 L73.80,112.93 L74.30,112.28 L74.80,111.66 L75.30,111.10 L75.80,110.62 L76.30,110.23 L76.80,109.88 L77.30,109.53 L77.80,109.20 L78.30,108.89 L78.80,108.62 L79.30,108.40 L79.80,108.23 L80.30,108.13 L80.80,108.10 L81.30,108.22 L81.80,108.50 L82.30,108.91 L82.80,109.43 L83.30,110.05 L83.80,110.73 L84.30,111.47 L84.80,112.23 L85.30,113.00 L85.80,113.75 L86.30,114.56 L86.80,115.48 L87.30,116.51 L87.80,117.62 L88.30,118.79 L88.80,120.00 L89.30,121.22 L89.80,122.44 L90.30,123.63 L90.80,124.78 L91.30,125.90 L91.80,127.05 L92.30,128.23 L92.80,129.41 L93.30,130.59 L93.80,131.75 L94.30,132.87 L94.80,133.95 L95.30,134.96 L95.80,135.90 L96.30,136.77 L96.80,137.63 L97.30,138.48 L97.80,139.30 L98.30,140.09 L98.80,140.83 L99.30,141.51 L99.80,142.10 L100.30,142.60 L100.80,143.00 L101.30,143.34 L101.80,143.67 L102.30,143.98 L102.80,144.28 L103.30,144.56 L103.80,144.81 L104.30,145.02 L104.80,145.21 L105.30,145.35 L105.80,145.45 L106.30,145.50 L106.80,145.50 L107.30,145.47 L107.80,145.42 L108.30,145.35 L108.80,145.27 L109.30,145.16 L109.80,145.04 L110.30,144.91 L110.80,144.76 L111.30,144.61 L111.80,144.44 L112.30,144.27 L112.80,144.10 L113.30,143.92 L113.80,143.73 L114.30,143.55 L114.80,143.37 L115.30,143.19 L115.80,142.99 L116.30,142.77 L116.80,142.54 L117.30,142.29 L117.80,142.02 L118.30,141.75 L118.80,141.46 L119.30,141.16 L119.80,140.86 L120.30,140.54 L120.80,140.23 L121.30,139.90 L121.80,139.58 L122.30,139.25 L122.80,138.93 L123.30,138.60 L123.80,138.27 L124.30,137.92 L124.80,137.56 L125.30,137.19 L125.80,136.82 L126.30,136.44 L126.80,136.05 L127.30,135.66 L127.80,135.26 L128.30,134.86 L128.80,134.46 L129.30,134.06 L129.80,133.66 L130.30,133.26 L130.80,132.88 L131.30,132.51 L131.80,132.15 L132.30,131.77 L132.80,131.38 L133.30,130.97 L133.80,130.53 L134.30,130.05 L134.80,129.52 L135.30,128.94 L135.80,128.28 L136.30,127.54 L136.80,126.73 L137.30,125.86 L137.80,124.93 L138.30,123.95 L138.80,122.93 L139.30,121.87 L139.80,120.78 L140.30,119.66 L140.80,118.53 L141.30,117.38 L141.80,116.23 L142.30,115.05 L142.80,113.77 L143.30,112.41 L143.80,110.98 L144.30,109.50 L144.80,107.99 L145.30,106.45 L145.80,104.90 L146.30,103.36 L146.80,101.85 L147.30,100.37 L147.80,98.94 L148.30,97.58 L148.80,96.30 L149.30,95.07 L149.80,93.86 L150.30,92.67 L150.80,91.51 L151.30,90.39 L151.80,89.31 L152.30,88.29 L152.80,87.34 L153.30,86.44 L153.80,85.48 L154.30,84.49 L154.80,83.56 L155.30,82.75 L155.80,82.15 L156.30,81.83 L156.80,81.89 L157.30,82.42 L157.80,83.30 L158.30,84.43 L158.80,85.70 L159.30,87.00 L159.80,88.29 L160.30,89.79 L160.80,91.49 L161.30,93.32 L161.80,95.23 L162.30,97.20 L162.80,99.37 L163.30,101.69 L163.80,104.10 L164.30,106.52 L164.80,108.89 L165.30,111.14 L165.80,113.20 L166.30,115.07 L166.80,116.83 L167.30,118.52 L167.80,120.16 L168.30,121.81 L168.80,123.50 L169.30,125.26 L169.80,127.09 L170.30,128.85 L170.80,130.74 L171.30,132.97 L171.80,135.92 L172.30,140.02 L172.80,144.39 L173.30,148.40 L173.80,152.49 L174.30,155.97 L174.80,158.29 L175.30,160.22 L175.80,161.91 L176.30,163.36 L176.80,164.59 L177.30,165.63 L177.80,166.52 L178.30,167.32 L178.80,168.05 L179.30,168.70 L179.80,169.28 L180.30,169.77 L180.80,170.17 L181.30,170.48 L181.80,170.75 L182.30,170.98 L182.80,171.18 L183.30,171.37 L183.80,171.55 L184.30,171.73 L184.80,171.91 L185.30,172.10 L185.80,172.28 L186.30,172.46 L186.80,172.64 L187.30,172.82 L187.80,172.99 L188.30,173.16 L188.80,173.33 L189.30,173.49 L189.80,173.65 L190.30,173.81 L190.80,173.97 L191.30,174.13 L191.80,174.28 L192.30,174.43 L192.80,174.58 L193.30,174.72 L193.80,174.87 L194.30,175.01 L194.80,175.15 L195.30,175.28 L195.80,175.42 L196.30,175.55 L196.80,175.68 L197.30,175.81 L197.80,175.94 L198.30,176.07 L198.80,176.20 L199.30,176.32 L199.80,176.44 L200.30,176.56 L200.80,176.68 L201.30,176.80 L201.80,176.92 L202.30,177.03 L202.80,177.14 L203.30,177.25 L203.80,177.36 L204.30,177.47 L204.80,177.57 L205.30,177.67 L205.80,177.77 L206.30,177.87 L206.80,177.96" fill="none" stroke="#ff0000" stroke-width="1.8" stroke-linejoin="round"/>
<path d="M26.8,137.2 L206.8,177.95" fill="none" stroke="#ff28a0" stroke-width="1.8"/>
</g>
<line x1="104.5" y1="92" x2="67.34" y2="130.75" stroke="#000" stroke-width="1.3"/>
<polygon points="62.50,135.80 65.18,128.67 69.51,132.82" fill="#000"/>
<line x1="119.7" y1="94.3" x2="136.45" y2="131.91" stroke="#000" stroke-width="1.3"/>
<polygon points="139.30,138.30 133.71,133.13 139.19,130.68" fill="#000"/>
<g clip-path="url(#clipe)">
<g fill="#000"><circle cx="258.00" cy="137.11" r="1.6"/><circle cx="259.00" cy="135.15" r="1.6"/><circle cx="260.00" cy="136.47" r="1.6"/><circle cx="261.00" cy="135.99" r="1.6"/><circle cx="262.00" cy="136.36" r="1.6"/><circle cx="263.00" cy="136.80" r="1.6"/><circle cx="264.00" cy="136.64" r="1.6"/><circle cx="265.00" cy="136.93" r="1.6"/><circle cx="266.00" cy="135.76" r="1.6"/><circle cx="267.00" cy="135.77" r="1.6"/><circle cx="268.00" cy="136.94" r="1.6"/><circle cx="269.00" cy="136.07" r="1.6"/><circle cx="270.00" cy="136.04" r="1.6"/><circle cx="271.00" cy="135.79" r="1.6"/><circle cx="272.00" cy="137.30" r="1.6"/><circle cx="273.00" cy="137.01" r="1.6"/><circle cx="274.00" cy="137.41" r="1.6"/><circle cx="275.00" cy="136.08" r="1.6"/><circle cx="276.00" cy="136.53" r="1.6"/><circle cx="277.00" cy="135.76" r="1.6"/><circle cx="278.00" cy="136.63" r="1.6"/><circle cx="279.00" cy="136.88" r="1.6"/><circle cx="280.00" cy="135.31" r="1.6"/><circle cx="281.00" cy="136.43" r="1.6"/><circle cx="282.00" cy="135.84" r="1.6"/><circle cx="283.00" cy="134.89" r="1.6"/><circle cx="284.00" cy="133.57" r="1.6"/><circle cx="285.00" cy="135.10" r="1.6"/><circle cx="286.00" cy="133.96" r="1.6"/><circle cx="287.00" cy="133.37" r="1.6"/><circle cx="288.00" cy="133.60" r="1.6"/><circle cx="289.00" cy="133.27" r="1.6"/><circle cx="290.00" cy="133.52" r="1.6"/><circle cx="291.00" cy="131.74" r="1.6"/><circle cx="292.00" cy="132.49" r="1.6"/><circle cx="293.00" cy="132.19" r="1.6"/><circle cx="294.00" cy="131.62" r="1.6"/><circle cx="295.00" cy="130.11" r="1.6"/><circle cx="296.00" cy="129.13" r="1.6"/><circle cx="297.00" cy="129.36" r="1.6"/><circle cx="298.00" cy="128.04" r="1.6"/><circle cx="299.00" cy="127.11" r="1.6"/><circle cx="300.00" cy="126.78" r="1.6"/><circle cx="301.00" cy="124.71" r="1.6"/><circle cx="302.00" cy="122.34" r="1.6"/><circle cx="303.00" cy="121.94" r="1.6"/><circle cx="304.00" cy="119.47" r="1.6"/><circle cx="305.00" cy="119.13" r="1.6"/><circle cx="306.00" cy="116.98" r="1.6"/><circle cx="307.00" cy="114.61" r="1.6"/><circle cx="308.00" cy="112.90" r="1.6"/><circle cx="309.00" cy="111.27" r="1.6"/><circle cx="310.00" cy="108.89" r="1.6"/><circle cx="311.00" cy="107.92" r="1.6"/><circle cx="312.00" cy="105.53" r="1.6"/><circle cx="313.00" cy="104.52" r="1.6"/><circle cx="314.00" cy="103.40" r="1.6"/><circle cx="315.00" cy="102.59" r="1.6"/><circle cx="316.00" cy="101.16" r="1.6"/><circle cx="317.00" cy="102.41" r="1.6"/><circle cx="318.00" cy="101.68" r="1.6"/><circle cx="319.00" cy="103.15" r="1.6"/><circle cx="320.00" cy="103.81" r="1.6"/><circle cx="321.00" cy="106.91" r="1.6"/><circle cx="322.00" cy="107.63" r="1.6"/><circle cx="323.00" cy="110.58" r="1.6"/><circle cx="324.00" cy="112.80" r="1.6"/><circle cx="325.00" cy="115.04" r="1.6"/><circle cx="326.00" cy="116.89" r="1.6"/><circle cx="327.00" cy="119.52" r="1.6"/><circle cx="328.00" cy="122.58" r="1.6"/><circle cx="329.00" cy="123.82" r="1.6"/><circle cx="330.00" cy="126.39" r="1.6"/><circle cx="331.00" cy="129.04" r="1.6"/><circle cx="332.00" cy="130.75" r="1.6"/><circle cx="333.00" cy="132.38" r="1.6"/><circle cx="334.00" cy="134.69" r="1.6"/><circle cx="335.00" cy="137.36" r="1.6"/><circle cx="336.00" cy="137.58" r="1.6"/><circle cx="337.00" cy="139.66" r="1.6"/><circle cx="338.00" cy="141.68" r="1.6"/><circle cx="339.00" cy="142.24" r="1.6"/><circle cx="340.00" cy="142.36" r="1.6"/><circle cx="341.00" cy="143.27" r="1.6"/><circle cx="342.00" cy="143.27" r="1.6"/><circle cx="343.00" cy="142.73" r="1.6"/><circle cx="344.00" cy="142.52" r="1.6"/><circle cx="345.00" cy="142.90" r="1.6"/><circle cx="346.00" cy="143.53" r="1.6"/><circle cx="347.00" cy="142.39" r="1.6"/><circle cx="348.00" cy="141.81" r="1.6"/><circle cx="349.00" cy="141.45" r="1.6"/><circle cx="350.00" cy="140.57" r="1.6"/><circle cx="351.00" cy="140.88" r="1.6"/><circle cx="352.00" cy="139.85" r="1.6"/><circle cx="353.00" cy="140.24" r="1.6"/><circle cx="354.00" cy="138.23" r="1.6"/><circle cx="355.00" cy="139.15" r="1.6"/><circle cx="356.00" cy="138.03" r="1.6"/><circle cx="357.00" cy="136.69" r="1.6"/><circle cx="358.00" cy="137.52" r="1.6"/><circle cx="359.00" cy="136.31" r="1.6"/><circle cx="360.00" cy="134.57" r="1.6"/><circle cx="361.00" cy="134.64" r="1.6"/><circle cx="362.00" cy="134.57" r="1.6"/><circle cx="363.00" cy="133.41" r="1.6"/><circle cx="364.00" cy="133.32" r="1.6"/><circle cx="365.00" cy="132.52" r="1.6"/><circle cx="366.00" cy="131.67" r="1.6"/><circle cx="367.00" cy="130.66" r="1.6"/><circle cx="368.00" cy="130.37" r="1.6"/><circle cx="369.00" cy="129.11" r="1.6"/><circle cx="370.00" cy="128.05" r="1.6"/><circle cx="371.00" cy="125.67" r="1.6"/><circle cx="372.00" cy="126.24" r="1.6"/><circle cx="373.00" cy="125.22" r="1.6"/><circle cx="374.00" cy="122.83" r="1.6"/><circle cx="375.00" cy="120.93" r="1.6"/><circle cx="376.00" cy="120.07" r="1.6"/><circle cx="377.00" cy="115.03" r="1.6"/><circle cx="378.00" cy="112.50" r="1.6"/><circle cx="379.00" cy="109.74" r="1.6"/><circle cx="380.00" cy="104.48" r="1.6"/><circle cx="381.00" cy="102.09" r="1.6"/><circle cx="382.00" cy="99.57" r="1.6"/><circle cx="383.00" cy="95.43" r="1.6"/><circle cx="384.00" cy="92.90" r="1.6"/><circle cx="385.00" cy="90.27" r="1.6"/><circle cx="386.00" cy="86.56" r="1.6"/><circle cx="387.00" cy="84.41" r="1.6"/><circle cx="388.00" cy="82.16" r="1.6"/><circle cx="389.00" cy="80.02" r="1.6"/><circle cx="390.00" cy="77.25" r="1.6"/><circle cx="391.00" cy="75.39" r="1.6"/><circle cx="392.00" cy="73.56" r="1.6"/><circle cx="393.00" cy="73.43" r="1.6"/><circle cx="394.00" cy="74.96" r="1.6"/><circle cx="395.00" cy="76.06" r="1.6"/><circle cx="396.00" cy="78.32" r="1.6"/><circle cx="397.00" cy="82.43" r="1.6"/><circle cx="398.00" cy="88.62" r="1.6"/><circle cx="399.00" cy="92.53" r="1.6"/><circle cx="400.00" cy="97.01" r="1.6"/><circle cx="401.00" cy="99.86" r="1.6"/><circle cx="402.00" cy="106.34" r="1.6"/><circle cx="403.00" cy="111.31" r="1.6"/><circle cx="404.00" cy="117.01" r="1.6"/><circle cx="405.00" cy="120.79" r="1.6"/><circle cx="406.00" cy="124.68" r="1.6"/><circle cx="407.00" cy="129.15" r="1.6"/><circle cx="408.00" cy="132.37" r="1.6"/><circle cx="409.00" cy="141.55" r="1.6"/><circle cx="410.00" cy="149.28" r="1.6"/><circle cx="411.00" cy="156.00" r="1.6"/><circle cx="412.00" cy="161.79" r="1.6"/><circle cx="413.00" cy="165.43" r="1.6"/><circle cx="414.00" cy="165.48" r="1.6"/><circle cx="415.00" cy="167.06" r="1.6"/><circle cx="416.00" cy="168.43" r="1.6"/><circle cx="417.00" cy="168.99" r="1.6"/><circle cx="418.00" cy="169.16" r="1.6"/><circle cx="419.00" cy="169.25" r="1.6"/><circle cx="420.00" cy="171.31" r="1.6"/><circle cx="421.00" cy="171.07" r="1.6"/><circle cx="422.00" cy="170.21" r="1.6"/><circle cx="423.00" cy="170.48" r="1.6"/><circle cx="424.00" cy="172.49" r="1.6"/><circle cx="425.00" cy="172.42" r="1.6"/><circle cx="426.00" cy="173.19" r="1.6"/><circle cx="427.00" cy="172.95" r="1.6"/><circle cx="428.00" cy="172.32" r="1.6"/><circle cx="429.00" cy="173.22" r="1.6"/><circle cx="430.00" cy="172.16" r="1.6"/><circle cx="431.00" cy="173.21" r="1.6"/><circle cx="432.00" cy="173.87" r="1.6"/><circle cx="433.00" cy="174.46" r="1.6"/><circle cx="434.00" cy="174.05" r="1.6"/><circle cx="435.00" cy="174.65" r="1.6"/><circle cx="436.00" cy="175.25" r="1.6"/><circle cx="437.00" cy="175.48" r="1.6"/><circle cx="438.00" cy="175.89" r="1.6"/><circle cx="439.00" cy="175.94" r="1.6"/><circle cx="440.00" cy="175.93" r="1.6"/><circle cx="441.00" cy="176.83" r="1.6"/><circle cx="442.00" cy="176.73" r="1.6"/><circle cx="443.00" cy="176.55" r="1.6"/><circle cx="444.00" cy="176.97" r="1.6"/><circle cx="445.00" cy="177.63" r="1.6"/><circle cx="446.00" cy="177.89" r="1.6"/><circle cx="447.00" cy="178.36" r="1.6"/><circle cx="448.00" cy="178.60" r="1.6"/></g>
<path d="M258.00,135.68 L258.50,135.79 L259.00,135.89 L259.50,136.00 L260.00,136.11 L260.50,136.21 L261.00,136.31 L261.50,136.42 L262.00,136.52 L262.50,136.62 L263.00,136.72 L263.50,136.82 L264.00,136.92 L264.50,137.02 L265.00,137.11 L265.50,137.20 L266.00,137.30 L266.50,137.38 L267.00,137.47 L267.50,137.56 L268.00,137.64 L268.50,137.72 L269.00,137.79 L269.50,137.86 L270.00,137.93 L270.50,138.00 L271.00,138.06 L271.50,138.12 L272.00,138.17 L272.50,138.21 L273.00,138.26 L273.50,138.29 L274.00,138.32 L274.50,138.35 L275.00,138.37 L275.50,138.38 L276.00,138.38 L276.50,138.38 L277.00,138.37 L277.50,138.35 L278.00,138.33 L278.50,138.30 L279.00,138.26 L279.50,138.21 L280.00,138.16 L280.50,138.10 L281.00,138.03 L281.50,137.95 L282.00,137.86 L282.50,137.77 L283.00,137.67 L283.50,137.57 L284.00,137.46 L284.50,137.34 L285.00,137.22 L285.50,137.09 L286.00,136.96 L286.50,136.83 L287.00,136.69 L287.50,136.55 L288.00,136.41 L288.50,136.27 L289.00,136.13 L289.50,135.99 L290.00,135.86 L290.50,135.73 L291.00,135.60 L291.50,135.48 L292.00,135.36 L292.50,135.26 L293.00,135.16 L293.50,135.07 L294.00,134.99 L294.50,134.92 L295.00,134.87 L295.50,134.83 L296.00,134.80 L296.50,134.79 L297.00,134.79 L297.50,134.80 L298.00,134.84 L298.50,134.89 L299.00,134.95 L299.50,135.04 L300.00,135.14 L300.50,135.26 L301.00,135.39 L301.50,135.55 L302.00,135.72 L302.50,135.90 L303.00,136.11 L303.50,136.33 L304.00,136.56 L304.50,136.81 L305.00,137.07 L305.50,137.34 L306.00,137.63 L306.50,137.93 L307.00,138.24 L307.50,138.56 L308.00,138.88 L308.50,139.22 L309.00,139.56 L309.50,139.91 L310.00,140.26 L310.50,140.61 L311.00,140.97 L311.50,141.33 L312.00,141.69 L312.50,142.05 L313.00,142.41 L313.50,142.77 L314.00,143.12 L314.50,143.47 L315.00,143.82 L315.50,144.16 L316.00,144.50 L316.50,144.83 L317.00,145.15 L317.50,145.47 L318.00,145.78 L318.50,146.09 L319.00,146.39 L319.50,146.68 L320.00,146.96 L320.50,147.23 L321.00,147.50 L321.50,147.76 L322.00,148.01 L322.50,148.25 L323.00,148.49 L323.50,148.72 L324.00,148.94 L324.50,149.16 L325.00,149.37 L325.50,149.57 L326.00,149.76 L326.50,149.95 L327.00,150.14 L327.50,150.31 L328.00,150.49 L328.50,150.66 L329.00,150.82 L329.50,150.98 L330.00,151.13 L330.50,151.28 L331.00,151.43 L331.50,151.58 L332.00,151.72 L332.50,151.86 L333.00,151.99 L333.50,152.12 L334.00,152.26 L334.50,152.38 L335.00,152.51 L335.50,152.64 L336.00,152.76 L336.50,152.88 L337.00,153.00 L337.50,153.12 L338.00,153.24 L338.50,153.36 L339.00,153.47 L339.50,153.59 L340.00,153.71 L340.50,153.82 L341.00,153.93 L341.50,154.05 L342.00,154.16 L342.50,154.27 L343.00,154.39 L343.50,154.50 L344.00,154.61 L344.50,154.72 L345.00,154.83 L345.50,154.94 L346.00,155.05 L346.50,155.17 L347.00,155.28 L347.50,155.39 L348.00,155.50 L348.50,155.61 L349.00,155.72 L349.50,155.83 L350.00,155.94 L350.50,156.05 L351.00,156.16 L351.50,156.27 L352.00,156.38 L352.50,156.49 L353.00,156.60 L353.50,156.71 L354.00,156.82 L354.50,156.93 L355.00,157.04 L355.50,157.15 L356.00,157.26 L356.50,157.37 L357.00,157.48 L357.50,157.59 L358.00,157.70 L358.50,157.81 L359.00,157.92 L359.50,158.03 L360.00,158.14 L360.50,158.25 L361.00,158.36 L361.50,158.47 L362.00,158.58 L362.50,158.69 L363.00,158.80 L363.50,158.91 L364.00,159.02 L364.50,159.13 L365.00,159.24 L365.50,159.35 L366.00,159.46 L366.50,159.57 L367.00,159.68 L367.50,159.79 L368.00,159.90 L368.50,160.01 L369.00,160.12 L369.50,160.23 L370.00,160.34 L370.50,160.45 L371.00,160.56 L371.50,160.67 L372.00,160.78 L372.50,160.89 L373.00,161.00 L373.50,161.11 L374.00,161.22 L374.50,161.33 L375.00,161.44 L375.50,161.55 L376.00,161.66 L376.50,161.77 L377.00,161.88 L377.50,161.99 L378.00,162.10 L378.50,162.21 L379.00,162.32 L379.50,162.43 L380.00,162.54 L380.50,162.65 L381.00,162.76 L381.50,162.87 L382.00,162.98 L382.50,163.09 L383.00,163.20 L383.50,163.31 L384.00,163.42" fill="none" stroke="#800000" stroke-width="1.7" stroke-linejoin="round"/>
<path d="M258.00,135.70 L258.50,135.81 L259.00,135.92 L259.50,136.03 L260.00,136.14 L260.50,136.25 L261.00,136.36 L261.50,136.47 L262.00,136.58 L262.50,136.69 L263.00,136.80 L263.50,136.91 L264.00,137.02 L264.50,137.13 L265.00,137.24 L265.50,137.35 L266.00,137.46 L266.50,137.57 L267.00,137.68 L267.50,137.79 L268.00,137.90 L268.50,138.01 L269.00,138.12 L269.50,138.23 L270.00,138.34 L270.50,138.45 L271.00,138.56 L271.50,138.67 L272.00,138.78 L272.50,138.89 L273.00,139.00 L273.50,139.11 L274.00,139.22 L274.50,139.33 L275.00,139.44 L275.50,139.55 L276.00,139.66 L276.50,139.77 L277.00,139.88 L277.50,139.99 L278.00,140.10 L278.50,140.21 L279.00,140.32 L279.50,140.43 L280.00,140.54 L280.50,140.65 L281.00,140.76 L281.50,140.87 L282.00,140.98 L282.50,141.09 L283.00,141.20 L283.50,141.31 L284.00,141.42 L284.50,141.53 L285.00,141.64 L285.50,141.75 L286.00,141.86 L286.50,141.97 L287.00,142.08 L287.50,142.19 L288.00,142.30 L288.50,142.41 L289.00,142.52 L289.50,142.63 L290.00,142.74 L290.50,142.84 L291.00,142.95 L291.50,143.06 L292.00,143.17 L292.50,143.28 L293.00,143.39 L293.50,143.50 L294.00,143.61 L294.50,143.72 L295.00,143.83 L295.50,143.94 L296.00,144.04 L296.50,144.15 L297.00,144.26 L297.50,144.37 L298.00,144.48 L298.50,144.58 L299.00,144.69 L299.50,144.80 L300.00,144.91 L300.50,145.01 L301.00,145.12 L301.50,145.23 L302.00,145.33 L302.50,145.44 L303.00,145.54 L303.50,145.65 L304.00,145.75 L304.50,145.85 L305.00,145.96 L305.50,146.06 L306.00,146.16 L306.50,146.26 L307.00,146.36 L307.50,146.46 L308.00,146.56 L308.50,146.66 L309.00,146.76 L309.50,146.85 L310.00,146.95 L310.50,147.04 L311.00,147.13 L311.50,147.22 L312.00,147.31 L312.50,147.40 L313.00,147.49 L313.50,147.57 L314.00,147.66 L314.50,147.74 L315.00,147.82 L315.50,147.90 L316.00,147.97 L316.50,148.05 L317.00,148.12 L317.50,148.19 L318.00,148.25 L318.50,148.32 L319.00,148.38 L319.50,148.43 L320.00,148.49 L320.50,148.54 L321.00,148.59 L321.50,148.63 L322.00,148.67 L322.50,148.71 L323.00,148.74 L323.50,148.77 L324.00,148.79 L324.50,148.81 L325.00,148.82 L325.50,148.83 L326.00,148.83 L326.50,148.83 L327.00,148.83 L327.50,148.81 L328.00,148.80 L328.50,148.77 L329.00,148.74 L329.50,148.70 L330.00,148.66 L330.50,148.61 L331.00,148.55 L331.50,148.49 L332.00,148.42 L332.50,148.34 L333.00,148.26 L333.50,148.16 L334.00,148.06 L334.50,147.96 L335.00,147.84 L335.50,147.72 L336.00,147.59 L336.50,147.45 L337.00,147.30 L337.50,147.14 L338.00,146.98 L338.50,146.81 L339.00,146.63 L339.50,146.44 L340.00,146.25 L340.50,146.04 L341.00,145.83 L341.50,145.61 L342.00,145.39 L342.50,145.15 L343.00,144.91 L343.50,144.67 L344.00,144.41 L344.50,144.15 L345.00,143.88 L345.50,143.61 L346.00,143.33 L346.50,143.05 L347.00,142.76 L347.50,142.46 L348.00,142.16 L348.50,141.86 L349.00,141.55 L349.50,141.24 L350.00,140.93 L350.50,140.62 L351.00,140.30 L351.50,139.99 L352.00,139.67 L352.50,139.35 L353.00,139.04 L353.50,138.72 L354.00,138.41 L354.50,138.10 L355.00,137.79 L355.50,137.49 L356.00,137.19 L356.50,136.89 L357.00,136.60 L357.50,136.32 L358.00,136.04 L358.50,135.77 L359.00,135.51 L359.50,135.26 L360.00,135.02 L360.50,134.78 L361.00,134.56 L361.50,134.35 L362.00,134.15 L362.50,133.96 L363.00,133.78 L363.50,133.62 L364.00,133.47 L364.50,133.34 L365.00,133.22 L365.50,133.12 L366.00,133.03 L366.50,132.96 L367.00,132.90 L367.50,132.86 L368.00,132.84 L368.50,132.83 L369.00,132.84 L369.50,132.87 L370.00,132.92 L370.50,132.99 L371.00,133.07 L371.50,133.17 L372.00,133.29 L372.50,133.43 L373.00,133.58 L373.50,133.75 L374.00,133.94 L374.50,134.15 L375.00,134.38 L375.50,134.62 L376.00,134.88 L376.50,135.16 L377.00,135.45 L377.50,135.76 L378.00,136.08 L378.50,136.42 L379.00,136.77 L379.50,137.14 L380.00,137.52 L380.50,137.92 L381.00,138.33 L381.50,138.75 L382.00,139.18 L382.50,139.62 L383.00,140.08 L383.50,140.54 L384.00,141.01 L384.50,141.49 L385.00,141.98 L385.50,142.48 L386.00,142.98 L386.50,143.49 L387.00,144.01 L387.50,144.53 L388.00,145.05 L388.50,145.58 L389.00,146.11 L389.50,146.64 L390.00,147.18 L390.50,147.71 L391.00,148.25 L391.50,148.79 L392.00,149.32 L392.50,149.86 L393.00,150.39 L393.50,150.92 L394.00,151.45 L394.50,151.98 L395.00,152.50 L395.50,153.02 L396.00,153.54 L396.50,154.05 L397.00,154.55 L397.50,155.05 L398.00,155.54 L398.50,156.03 L399.00,156.51 L399.50,156.99 L400.00,157.45 L400.50,157.91 L401.00,158.37 L401.50,158.81 L402.00,159.25 L402.50,159.68 L403.00,160.11 L403.50,160.52 L404.00,160.93 L404.50,161.33 L405.00,161.72 L405.50,162.10 L406.00,162.48 L406.50,162.85 L407.00,163.21 L407.50,163.56 L408.00,163.90 L408.50,164.24 L409.00,164.56 L409.50,164.88 L410.00,165.20 L410.50,165.50 L411.00,165.80 L411.50,166.09 L412.00,166.37 L412.50,166.65 L413.00,166.92 L413.50,167.18 L414.00,167.44 L414.50,167.69 L415.00,167.94 L415.50,168.17 L416.00,168.41 L416.50,168.63 L417.00,168.85 L417.50,169.07 L418.00,169.28 L418.50,169.49 L419.00,169.69 L419.50,169.89 L420.00,170.08 L420.50,170.27 L421.00,170.45 L421.50,170.63 L422.00,170.81 L422.50,170.98 L423.00,171.15 L423.50,171.31 L424.00,171.48 L424.50,171.64 L425.00,171.79 L425.50,171.95 L426.00,172.10 L426.50,172.25 L427.00,172.39 L427.50,172.54 L428.00,172.68 L428.50,172.82 L429.00,172.96 L429.50,173.09 L430.00,173.23 L430.50,173.36 L431.00,173.49 L431.50,173.62 L432.00,173.75 L432.50,173.88 L433.00,174.01 L433.50,174.13 L434.00,174.26 L434.50,174.38 L435.00,174.50 L435.50,174.62 L436.00,174.74 L436.50,174.86 L437.00,174.98 L437.50,175.10 L438.00,175.22 L438.50,175.33 L439.00,175.45 L439.50,175.57 L440.00,175.68 L440.50,175.80 L441.00,175.91 L441.50,176.03 L442.00,176.14 L442.50,176.25 L443.00,176.37 L443.50,176.48 L444.00,176.59 L444.50,176.70 L445.00,176.82 L445.50,176.93 L446.00,177.04 L446.50,177.15 L447.00,177.26 L447.50,177.38 L448.00,177.49" fill="none" stroke="#800000" stroke-width="1.7" stroke-linejoin="round"/>
<path d="M267.00,137.64 L267.50,137.75 L268.00,137.86 L268.50,137.97 L269.00,138.07 L269.50,138.18 L270.00,138.29 L270.50,138.40 L271.00,138.51 L271.50,138.62 L272.00,138.73 L272.50,138.84 L273.00,138.95 L273.50,139.05 L274.00,139.16 L274.50,139.27 L275.00,139.38 L275.50,139.49 L276.00,139.60 L276.50,139.70 L277.00,139.81 L277.50,139.92 L278.00,140.03 L278.50,140.14 L279.00,140.24 L279.50,140.35 L280.00,140.46 L280.50,140.57 L281.00,140.68 L281.50,140.78 L282.00,140.89 L282.50,141.00 L283.00,141.10 L283.50,141.21 L284.00,141.32 L284.50,141.42 L285.00,141.53 L285.50,141.63 L286.00,141.74 L286.50,141.84 L287.00,141.95 L287.50,142.05 L288.00,142.15 L288.50,142.25 L289.00,142.35 L289.50,142.45 L290.00,142.55 L290.50,142.64 L291.00,142.73 L291.50,142.81 L292.00,142.89 L292.50,142.97 L293.00,143.03 L293.50,143.09 L294.00,143.14 L294.50,143.18 L295.00,143.20 L295.50,143.21 L296.00,143.20 L296.50,143.17 L297.00,143.11 L297.50,143.03 L298.00,142.93 L298.50,142.79 L299.00,142.62 L299.50,142.42 L300.00,142.18 L300.50,141.89 L301.00,141.57 L301.50,141.21 L302.00,140.81 L302.50,140.37 L303.00,139.90 L303.50,139.39 L304.00,138.85 L304.50,138.28 L305.00,137.69 L305.50,137.09 L306.00,136.49 L306.50,135.89 L307.00,135.30 L307.50,134.74 L308.00,134.20 L308.50,133.71 L309.00,133.28 L309.50,132.90 L310.00,132.60 L310.50,132.39 L311.00,132.26 L311.50,132.22 L312.00,132.28 L312.50,132.44 L313.00,132.70 L313.50,133.05 L314.00,133.48 L314.50,134.00 L315.00,134.60 L315.50,135.25 L316.00,135.96 L316.50,136.72 L317.00,137.50 L317.50,138.31 L318.00,139.13 L318.50,139.95 L319.00,140.77 L319.50,141.58 L320.00,142.37 L320.50,143.13 L321.00,143.86 L321.50,144.55 L322.00,145.21 L322.50,145.83 L323.00,146.41 L323.50,146.95 L324.00,147.46 L324.50,147.92 L325.00,148.34 L325.50,148.73 L326.00,149.09 L326.50,149.41 L327.00,149.71 L327.50,149.99 L328.00,150.24 L328.50,150.47 L329.00,150.68 L329.50,150.88 L330.00,151.06 L330.50,151.23 L331.00,151.39 L331.50,151.55 L332.00,151.69 L332.50,151.83 L333.00,151.97 L333.50,152.10 L334.00,152.23 L334.50,152.35 L335.00,152.47 L335.50,152.59 L336.00,152.71 L336.50,152.83 L337.00,152.95 L337.50,153.06 L338.00,153.18 L338.50,153.29 L339.00,153.41 L339.50,153.52 L340.00,153.64 L340.50,153.75 L341.00,153.86 L341.50,153.98 L342.00,154.09 L342.50,154.20 L343.00,154.32 L343.50,154.43 L344.00,154.54 L344.50,154.65 L345.00,154.76 L345.50,154.88 L346.00,154.99 L346.50,155.10 L347.00,155.21 L347.50,155.32 L348.00,155.44 L348.50,155.55 L349.00,155.66 L349.50,155.77 L350.00,155.88 L350.50,155.99 L351.00,156.11 L351.50,156.22 L352.00,156.33 L352.50,156.44 L353.00,156.55 L353.50,156.66 L354.00,156.77 L354.50,156.88 L355.00,156.99 L355.50,157.11 L356.00,157.22 L356.50,157.33 L357.00,157.44" fill="none" stroke="#008000" stroke-width="1.7" stroke-linejoin="round"/>
<path d="M324.30,150.29 L324.80,150.40 L325.30,150.51 L325.80,150.62 L326.30,150.73 L326.80,150.84 L327.30,150.95 L327.80,151.06 L328.30,151.17 L328.80,151.28 L329.30,151.39 L329.80,151.50 L330.30,151.61 L330.80,151.72 L331.30,151.83 L331.80,151.94 L332.30,152.05 L332.80,152.16 L333.30,152.27 L333.80,152.38 L334.30,152.49 L334.80,152.60 L335.30,152.71 L335.80,152.82 L336.30,152.93 L336.80,153.04 L337.30,153.15 L337.80,153.26 L338.30,153.37 L338.80,153.48 L339.30,153.59 L339.80,153.70 L340.30,153.81 L340.80,153.92 L341.30,154.03 L341.80,154.14 L342.30,154.25 L342.80,154.36 L343.30,154.47 L343.80,154.58 L344.30,154.69 L344.80,154.80 L345.30,154.91 L345.80,155.02 L346.30,155.13 L346.80,155.23 L347.30,155.34 L347.80,155.45 L348.30,155.56 L348.80,155.67 L349.30,155.78 L349.80,155.89 L350.30,156.00 L350.80,156.11 L351.30,156.22 L351.80,156.32 L352.30,156.43 L352.80,156.53 L353.30,156.64 L353.80,156.74 L354.30,156.85 L354.80,156.95 L355.30,157.05 L355.80,157.14 L356.30,157.24 L356.80,157.33 L357.30,157.41 L357.80,157.50 L358.30,157.57 L358.80,157.65 L359.30,157.71 L359.80,157.77 L360.30,157.82 L360.80,157.86 L361.30,157.88 L361.80,157.90 L362.30,157.90 L362.80,157.88 L363.30,157.85 L363.80,157.80 L364.30,157.72 L364.80,157.62 L365.30,157.49 L365.80,157.34 L366.30,157.15 L366.80,156.93 L367.30,156.67 L367.80,156.38 L368.30,156.04 L368.80,155.66 L369.30,155.23 L369.80,154.75 L370.30,154.23 L370.80,153.65 L371.30,153.03 L371.80,152.35 L372.30,151.61 L372.80,150.82 L373.30,149.98 L373.80,149.09 L374.30,148.15 L374.80,147.17 L375.30,146.14 L375.80,145.07 L376.30,143.97 L376.80,142.84 L377.30,141.68 L377.80,140.51 L378.30,139.33 L378.80,138.15 L379.30,136.97 L379.80,135.82 L380.30,134.68 L380.80,133.58 L381.30,132.52 L381.80,131.52 L382.30,130.57 L382.80,129.70 L383.30,128.90 L383.80,128.19 L384.30,127.58 L384.80,127.06 L385.30,126.65 L385.80,126.35 L386.30,126.16 L386.80,126.10 L387.30,126.15 L387.80,126.32 L388.30,126.60 L388.80,127.01 L389.30,127.53 L389.80,128.16 L390.30,128.90 L390.80,129.73 L391.30,130.66 L391.80,131.68 L392.30,132.77 L392.80,133.94 L393.30,135.16 L393.80,136.44 L394.30,137.76 L394.80,139.12 L395.30,140.49 L395.80,141.89 L396.30,143.29 L396.80,144.69 L397.30,146.08 L397.80,147.46 L398.30,148.81 L398.80,150.13 L399.30,151.42 L399.80,152.67 L400.30,153.87 L400.80,155.03 L401.30,156.14 L401.80,157.20 L402.30,158.21 L402.80,159.17 L403.30,160.07 L403.80,160.91 L404.30,161.71 L404.80,162.45 L405.30,163.15 L405.80,163.80 L406.30,164.40 L406.80,164.96 L407.30,165.47 L407.80,165.95 L408.30,166.39 L408.80,166.80 L409.30,167.17 L409.80,167.52 L410.30,167.84 L410.80,168.14 L411.30,168.41 L411.80,168.66 L412.30,168.90 L412.80,169.12 L413.30,169.32 L413.80,169.52 L414.30,169.70 L414.80,169.87 L415.30,170.03 L415.80,170.19 L416.30,170.33 L416.80,170.48 L417.30,170.61 L417.80,170.75 L418.30,170.88 L418.80,171.00 L419.30,171.13 L419.80,171.25 L420.30,171.37 L420.80,171.48 L421.30,171.60 L421.80,171.71 L422.30,171.83 L422.80,171.94 L423.30,172.06 L423.80,172.17 L424.30,172.28 L424.80,172.39 L425.30,172.50 L425.80,172.61 L426.30,172.72 L426.80,172.83 L427.30,172.94 L427.80,173.05 L428.30,173.17 L428.80,173.28 L429.30,173.39 L429.80,173.50 L430.30,173.61 L430.80,173.72 L431.30,173.83 L431.80,173.94 L432.30,174.05 L432.80,174.16 L433.30,174.27 L433.80,174.38 L434.30,174.49 L434.80,174.60 L435.30,174.71 L435.80,174.82 L436.30,174.93 L436.80,175.04 L437.30,175.15 L437.80,175.26 L438.30,175.37 L438.80,175.48 L439.30,175.59 L439.80,175.70 L440.30,175.81 L440.80,175.92 L441.30,176.03 L441.80,176.14 L442.30,176.25 L442.80,176.36 L443.30,176.47 L443.80,176.58 L444.30,176.69 L444.80,176.80 L445.30,176.91 L445.80,177.02 L446.30,177.13 L446.80,177.24 L447.30,177.35 L447.80,177.46" fill="none" stroke="#008000" stroke-width="1.7" stroke-linejoin="round"/>
<path d="M258.00,135.52 L258.50,135.63 L259.00,135.74 L259.50,135.85 L260.00,135.95 L260.50,136.06 L261.00,136.17 L261.50,136.27 L262.00,136.38 L262.50,136.49 L263.00,136.59 L263.50,136.70 L264.00,136.81 L264.50,136.91 L265.00,137.02 L265.50,137.12 L266.00,137.23 L266.50,137.33 L267.00,137.44 L267.50,137.55 L268.00,137.65 L268.50,137.76 L269.00,137.86 L269.50,137.97 L270.00,138.07 L270.50,138.18 L271.00,138.28 L271.50,138.39 L272.00,138.49 L272.50,138.59 L273.00,138.70 L273.50,138.80 L274.00,138.90 L274.50,139.01 L275.00,139.11 L275.50,139.21 L276.00,139.32 L276.50,139.42 L277.00,139.52 L277.50,139.62 L278.00,139.72 L278.50,139.82 L279.00,139.93 L279.50,140.03 L280.00,140.13 L280.50,140.23 L281.00,140.33 L281.50,140.42 L282.00,140.52 L282.50,140.62 L283.00,140.72 L283.50,140.82 L284.00,140.91 L284.50,141.01 L285.00,141.10 L285.50,141.20 L286.00,141.29 L286.50,141.38 L287.00,141.48 L287.50,141.57 L288.00,141.66 L288.50,141.74 L289.00,141.83 L289.50,141.91 L290.00,142.00 L290.50,142.08 L291.00,142.15 L291.50,142.23 L292.00,142.30 L292.50,142.36 L293.00,142.42 L293.50,142.48 L294.00,142.53 L294.50,142.57 L295.00,142.60 L295.50,142.63 L296.00,142.64 L296.50,142.65 L297.00,142.63 L297.50,142.61 L298.00,142.57 L298.50,142.50 L299.00,142.42 L299.50,142.32 L300.00,142.19 L300.50,142.03 L301.00,141.85 L301.50,141.63 L302.00,141.38 L302.50,141.10 L303.00,140.77 L303.50,140.41 L304.00,140.01 L304.50,139.56 L305.00,139.06 L305.50,138.53 L306.00,137.94 L306.50,137.31 L307.00,136.64 L307.50,135.92 L308.00,135.16 L308.50,134.35 L309.00,133.51 L309.50,132.64 L310.00,131.73 L310.50,130.80 L311.00,129.85 L311.50,128.89 L312.00,127.92 L312.50,126.96 L313.00,126.00 L313.50,125.07 L314.00,124.17 L314.50,123.30 L315.00,122.49 L315.50,121.75 L316.00,121.07 L316.50,120.48 L317.00,119.99 L317.50,119.60 L318.00,119.33 L318.50,119.17 L319.00,119.14 L319.50,119.24 L320.00,119.44 L320.50,119.75 L321.00,120.16 L321.50,120.66 L322.00,121.25 L322.50,121.93 L323.00,122.68 L323.50,123.51 L324.00,124.39 L324.50,125.32 L325.00,126.30 L325.50,127.32 L326.00,128.36 L326.50,129.43 L327.00,130.50 L327.50,131.59 L328.00,132.67 L328.50,133.75 L329.00,134.82 L329.50,135.87 L330.00,136.91 L330.50,137.92 L331.00,138.90 L331.50,139.85 L332.00,140.77 L332.50,141.66 L333.00,142.51 L333.50,143.33 L334.00,144.10 L334.50,144.84 L335.00,145.54 L335.50,146.21 L336.00,146.84 L336.50,147.43 L337.00,147.99 L337.50,148.51 L338.00,149.01 L338.50,149.47 L339.00,149.90 L339.50,150.30 L340.00,150.68 L340.50,151.04 L341.00,151.37 L341.50,151.68 L342.00,151.98 L342.50,152.25 L343.00,152.51 L343.50,152.76 L344.00,152.99 L344.50,153.21 L345.00,153.41 L345.50,153.61 L346.00,153.80 L346.50,153.98 L347.00,154.16 L347.50,154.33 L348.00,154.49 L348.50,154.65 L349.00,154.80 L349.50,154.95 L350.00,155.09 L350.50,155.24 L351.00,155.38 L351.50,155.52 L352.00,155.65 L352.50,155.79 L353.00,155.92 L353.50,156.05 L354.00,156.18 L354.50,156.31 L355.00,156.44 L355.50,156.56 L356.00,156.69 L356.50,156.81 L357.00,156.94 L357.50,157.06 L358.00,157.18 L358.50,157.31 L359.00,157.43 L359.50,157.55 L360.00,157.67 L360.50,157.79 L361.00,157.91 L361.50,158.03 L362.00,158.15 L362.50,158.27 L363.00,158.39 L363.50,158.51 L364.00,158.63 L364.50,158.75 L365.00,158.86 L365.50,158.98 L366.00,159.10 L366.50,159.22 L367.00,159.33 L367.50,159.45 L368.00,159.57 L368.50,159.68 L369.00,159.80 L369.50,159.92 L370.00,160.03 L370.50,160.15 L371.00,160.26 L371.50,160.38 L372.00,160.49 L372.50,160.61 L373.00,160.72 L373.50,160.84 L374.00,160.95 L374.50,161.07 L375.00,161.18 L375.50,161.30 L376.00,161.41 L376.50,161.53 L377.00,161.64 L377.50,161.75 L378.00,161.87 L378.50,161.98 L379.00,162.09 L379.50,162.21 L380.00,162.32 L380.50,162.44 L381.00,162.55 L381.50,162.66 L382.00,162.78" fill="none" stroke="#0000ff" stroke-width="1.7" stroke-linejoin="round"/>
<path d="M352.30,156.19 L352.80,156.29 L353.30,156.40 L353.80,156.50 L354.30,156.60 L354.80,156.71 L355.30,156.81 L355.80,156.91 L356.30,157.02 L356.80,157.12 L357.30,157.22 L357.80,157.32 L358.30,157.42 L358.80,157.52 L359.30,157.62 L359.80,157.72 L360.30,157.82 L360.80,157.92 L361.30,158.02 L361.80,158.12 L362.30,158.22 L362.80,158.32 L363.30,158.41 L363.80,158.51 L364.30,158.61 L364.80,158.70 L365.30,158.80 L365.80,158.89 L366.30,158.98 L366.80,159.08 L367.30,159.17 L367.80,159.26 L368.30,159.35 L368.80,159.43 L369.30,159.52 L369.80,159.60 L370.30,159.69 L370.80,159.77 L371.30,159.85 L371.80,159.92 L372.30,159.99 L372.80,160.06 L373.30,160.12 L373.80,160.18 L374.30,160.23 L374.80,160.27 L375.30,160.30 L375.80,160.32 L376.30,160.32 L376.80,160.30 L377.30,160.26 L377.80,160.20 L378.30,160.10 L378.80,159.97 L379.30,159.79 L379.80,159.57 L380.30,159.29 L380.80,158.95 L381.30,158.54 L381.80,158.05 L382.30,157.47 L382.80,156.80 L383.30,156.02 L383.80,155.13 L384.30,154.12 L384.80,152.99 L385.30,151.73 L385.80,150.35 L386.30,148.84 L386.80,147.20 L387.30,145.45 L387.80,143.59 L388.30,141.63 L388.80,139.59 L389.30,137.49 L389.80,135.36 L390.30,133.21 L390.80,131.08 L391.30,129.00 L391.80,127.00 L392.30,125.13 L392.80,123.41 L393.30,121.89 L393.80,120.61 L394.30,119.59 L394.80,118.87 L395.30,118.48 L395.80,118.42 L396.30,118.70 L396.80,119.31 L397.30,120.25 L397.80,121.49 L398.30,122.99 L398.80,124.73 L399.30,126.67 L399.80,128.76 L400.30,130.98 L400.80,133.28 L401.30,135.63 L401.80,138.00 L402.30,140.35 L402.80,142.67 L403.30,144.93 L403.80,147.11 L404.30,149.19 L404.80,151.16 L405.30,153.02 L405.80,154.75 L406.30,156.35 L406.80,157.83 L407.30,159.18 L407.80,160.41 L408.30,161.52 L408.80,162.52 L409.30,163.41 L409.80,164.21 L410.30,164.92 L410.80,165.55 L411.30,166.11 L411.80,166.61 L412.30,167.05 L412.80,167.45 L413.30,167.80 L413.80,168.12 L414.30,168.40 L414.80,168.66 L415.30,168.90 L415.80,169.12 L416.30,169.32 L416.80,169.51 L417.30,169.69 L417.80,169.86 L418.30,170.02 L418.80,170.18 L419.30,170.33 L419.80,170.48 L420.30,170.63 L420.80,170.77 L421.30,170.91 L421.80,171.04 L422.30,171.18 L422.80,171.31 L423.30,171.45 L423.80,171.58 L424.30,171.71 L424.80,171.84 L425.30,171.96 L425.80,172.09 L426.30,172.22 L426.80,172.34 L427.30,172.47 L427.80,172.59 L428.30,172.71 L428.80,172.84 L429.30,172.96 L429.80,173.08 L430.30,173.20 L430.80,173.32 L431.30,173.44 L431.80,173.56 L432.30,173.68 L432.80,173.80 L433.30,173.92 L433.80,174.04 L434.30,174.16 L434.80,174.28 L435.30,174.40 L435.80,174.51 L436.30,174.63 L436.80,174.75 L437.30,174.86 L437.80,174.98 L438.30,175.10 L438.80,175.21 L439.30,175.33" fill="none" stroke="#0000ff" stroke-width="1.7" stroke-linejoin="round"/>
<path d="M301.30,145.23 L301.80,145.34 L302.30,145.45 L302.80,145.56 L303.30,145.67 L303.80,145.78 L304.30,145.89 L304.80,146.00 L305.30,146.11 L305.80,146.22 L306.30,146.33 L306.80,146.44 L307.30,146.55 L307.80,146.66 L308.30,146.77 L308.80,146.88 L309.30,146.99 L309.80,147.10 L310.30,147.21 L310.80,147.32 L311.30,147.43 L311.80,147.54 L312.30,147.64 L312.80,147.75 L313.30,147.86 L313.80,147.97 L314.30,148.08 L314.80,148.18 L315.30,148.28 L315.80,148.38 L316.30,148.48 L316.80,148.56 L317.30,148.63 L317.80,148.70 L318.30,148.74 L318.80,148.76 L319.30,148.75 L319.80,148.71 L320.30,148.62 L320.80,148.50 L321.30,148.32 L321.80,148.09 L322.30,147.80 L322.80,147.47 L323.30,147.09 L323.80,146.68 L324.30,146.24 L324.80,145.79 L325.30,145.36 L325.80,144.96 L326.30,144.62 L326.80,144.35 L327.30,144.18 L327.80,144.12 L328.30,144.17 L328.80,144.34 L329.30,144.62 L329.80,145.01 L330.30,145.50 L330.80,146.06 L331.30,146.68 L331.80,147.33 L332.30,148.00 L332.80,148.66 L333.30,149.29 L333.80,149.89 L334.30,150.44 L334.80,150.95 L335.30,151.40 L335.80,151.80 L336.30,152.14 L336.80,152.45 L337.30,152.71 L337.80,152.94 L338.30,153.14 L338.80,153.32 L339.30,153.47 L339.80,153.62 L340.30,153.76 L340.80,153.88 L341.30,154.00 L341.80,154.12 L342.30,154.24 L342.80,154.35 L343.30,154.46 L343.80,154.57 L344.30,154.68 L344.80,154.80 L345.30,154.91 L345.80,155.02 L346.30,155.13 L346.80,155.24 L347.30,155.35 L347.80,155.46 L348.30,155.57 L348.80,155.68 L349.30,155.79 L349.80,155.90 L350.30,156.01 L350.80,156.12 L351.30,156.23 L351.80,156.34 L352.30,156.45 L352.80,156.56 L353.30,156.67 L353.80,156.78 L354.30,156.89 L354.80,157.00 L355.30,157.11" fill="none" stroke="#ff28a0" stroke-width="1.7" stroke-linejoin="round"/>
<path d="M384.80,163.60 L385.30,163.71 L385.80,163.82 L386.30,163.93 L386.80,164.04 L387.30,164.15 L387.80,164.26 L388.30,164.37 L388.80,164.48 L389.30,164.59 L389.80,164.70 L390.30,164.81 L390.80,164.92 L391.30,165.03 L391.80,165.14 L392.30,165.25 L392.80,165.35 L393.30,165.46 L393.80,165.57 L394.30,165.68 L394.80,165.78 L395.30,165.87 L395.80,165.96 L396.30,166.02 L396.80,166.06 L397.30,166.06 L397.80,166.00 L398.30,165.86 L398.80,165.61 L399.30,165.23 L399.80,164.68 L400.30,163.94 L400.80,162.98 L401.30,161.82 L401.80,160.46 L402.30,158.95 L402.80,157.34 L403.30,155.73 L403.80,154.22 L404.30,152.92 L404.80,151.93 L405.30,151.34 L405.80,151.22 L406.30,151.56 L406.80,152.37 L407.30,153.58 L407.80,155.10 L408.30,156.83 L408.80,158.66 L409.30,160.49 L409.80,162.22 L410.30,163.80 L410.80,165.18 L411.30,166.36 L411.80,167.32 L412.30,168.09 L412.80,168.69 L413.30,169.16 L413.80,169.52 L414.30,169.80 L414.80,170.02 L415.30,170.20 L415.80,170.36 L416.30,170.49 L416.80,170.62 L417.30,170.74 L417.80,170.85 L418.30,170.96 L418.80,171.07 L419.30,171.19 L419.80,171.30 L420.30,171.41 L420.80,171.52 L421.30,171.63 L421.80,171.74 L422.30,171.85 L422.80,171.96 L423.30,172.07 L423.80,172.18 L424.30,172.29 L424.80,172.40 L425.30,172.51 L425.80,172.62 L426.30,172.73 L426.80,172.84" fill="none" stroke="#ff28a0" stroke-width="1.7" stroke-linejoin="round"/>
<path d="M258.00,135.60 L258.50,135.69 L259.00,135.78 L259.50,135.88 L260.00,135.96 L260.50,136.05 L261.00,136.13 L261.50,136.21 L262.00,136.28 L262.50,136.35 L263.00,136.41 L263.50,136.47 L264.00,136.51 L264.50,136.55 L265.00,136.58 L265.50,136.59 L266.00,136.60 L266.50,136.60 L267.00,136.60 L267.50,136.60 L268.00,136.60 L268.50,136.60 L269.00,136.60 L269.50,136.60 L270.00,136.60 L270.50,136.60 L271.00,136.60 L271.50,136.60 L272.00,136.60 L272.50,136.60 L273.00,136.60 L273.50,136.60 L274.00,136.60 L274.50,136.60 L275.00,136.60 L275.50,136.57 L276.00,136.53 L276.50,136.47 L277.00,136.39 L277.50,136.31 L278.00,136.21 L278.50,136.11 L279.00,136.01 L279.50,135.90 L280.00,135.80 L280.50,135.69 L281.00,135.57 L281.50,135.44 L282.00,135.29 L282.50,135.14 L283.00,134.99 L283.50,134.82 L284.00,134.66 L284.50,134.49 L285.00,134.33 L285.50,134.17 L286.00,134.01 L286.50,133.85 L287.00,133.70 L287.50,133.54 L288.00,133.38 L288.50,133.22 L289.00,133.05 L289.50,132.87 L290.00,132.69 L290.50,132.50 L291.00,132.30 L291.50,132.09 L292.00,131.86 L292.50,131.62 L293.00,131.37 L293.50,131.10 L294.00,130.82 L294.50,130.52 L295.00,130.21 L295.50,129.88 L296.00,129.53 L296.50,129.18 L297.00,128.80 L297.50,128.40 L298.00,127.98 L298.50,127.52 L299.00,127.04 L299.50,126.53 L300.00,126.00 L300.50,125.44 L301.00,124.85 L301.50,124.24 L302.00,123.60 L302.50,122.91 L303.00,122.16 L303.50,121.35 L304.00,120.49 L304.50,119.59 L305.00,118.68 L305.50,117.74 L306.00,116.81 L306.50,115.88 L307.00,114.94 L307.50,113.94 L308.00,112.91 L308.50,111.85 L309.00,110.81 L309.50,109.80 L310.00,108.85 L310.50,107.97 L311.00,107.19 L311.50,106.39 L312.00,105.56 L312.50,104.74 L313.00,103.95 L313.50,103.22 L314.00,102.58 L314.50,102.07 L315.00,101.70 L315.50,101.52 L316.00,101.52 L316.50,101.67 L317.00,101.93 L317.50,102.28 L318.00,102.71 L318.50,103.21 L319.00,103.74 L319.50,104.31 L320.00,104.89 L320.50,105.52 L321.00,106.32 L321.50,107.26 L322.00,108.30 L322.50,109.42 L323.00,110.59 L323.50,111.76 L324.00,112.91 L324.50,114.00 L325.00,115.06 L325.50,116.13 L326.00,117.21 L326.50,118.30 L327.00,119.39 L327.50,120.49 L328.00,121.59 L328.50,122.70 L329.00,123.80 L329.50,124.93 L330.00,126.10 L330.50,127.29 L331.00,128.49 L331.50,129.69 L332.00,130.86 L332.50,131.99 L333.00,133.07 L333.50,134.08 L334.00,135.00 L334.50,135.88 L335.00,136.77 L335.50,137.65 L336.00,138.49 L336.50,139.28 L337.00,139.99 L337.50,140.61 L338.00,141.12 L338.50,141.50 L339.00,141.80 L339.50,142.09 L340.00,142.36 L340.50,142.61 L341.00,142.83 L341.50,143.02 L342.00,143.18 L342.50,143.30 L343.00,143.37 L343.50,143.40 L344.00,143.38 L344.50,143.33 L345.00,143.26 L345.50,143.15 L346.00,143.02 L346.50,142.87 L347.00,142.70 L347.50,142.51 L348.00,142.31 L348.50,142.09 L349.00,141.87 L349.50,141.64 L350.00,141.41 L350.50,141.18 L351.00,140.95 L351.50,140.72 L352.00,140.50 L352.50,140.28 L353.00,140.04 L353.50,139.79 L354.00,139.53 L354.50,139.25 L355.00,138.97 L355.50,138.68 L356.00,138.38 L356.50,138.07 L357.00,137.76 L357.50,137.44 L358.00,137.12 L358.50,136.79 L359.00,136.46 L359.50,136.13 L360.00,135.80 L360.50,135.46 L361.00,135.12 L361.50,134.77 L362.00,134.41 L362.50,134.04 L363.00,133.66 L363.50,133.28 L364.00,132.89 L364.50,132.50 L365.00,132.11 L365.50,131.70 L366.00,131.30 L366.50,130.89 L367.00,130.48 L367.50,130.06 L368.00,129.63 L368.50,129.20 L369.00,128.75 L369.50,128.28 L370.00,127.80 L370.50,127.31 L371.00,126.81 L371.50,126.30 L372.00,125.75 L372.50,125.15 L373.00,124.50 L373.50,123.78 L374.00,123.00 L374.50,122.13 L375.00,121.19 L375.50,120.14 L376.00,119.00 L376.50,117.64 L377.00,116.00 L377.50,114.17 L378.00,112.24 L378.50,110.29 L379.00,108.40 L379.50,106.66 L380.00,105.00 L380.50,103.34 L381.00,101.71 L381.50,100.10 L382.00,98.53 L382.50,96.99 L383.00,95.50 L383.50,94.04 L384.00,92.60 L384.50,91.17 L385.00,89.77 L385.50,88.40 L386.00,87.06 L386.50,85.74 L387.00,84.46 L387.50,83.21 L388.00,82.00 L388.50,80.79 L389.00,79.56 L389.50,78.37 L390.00,77.27 L390.50,76.30 L391.00,75.50 L391.50,74.78 L392.00,74.12 L392.50,73.68 L393.00,73.63 L393.50,73.92 L394.00,74.47 L394.50,75.19 L395.00,76.00 L395.50,77.14 L396.00,78.79 L396.50,80.76 L397.00,82.89 L397.50,85.00 L398.00,87.15 L398.50,89.48 L399.00,91.90 L399.50,94.32 L400.00,96.66 L400.50,98.97 L401.00,101.28 L401.50,103.62 L402.00,106.00 L402.50,108.48 L403.00,111.05 L403.50,113.61 L404.00,116.09 L404.50,118.40 L405.00,120.56 L405.50,122.64 L406.00,124.72 L406.50,126.85 L407.00,128.87 L407.50,130.97 L408.00,133.44 L408.50,136.76 L409.00,140.98 L409.50,145.23 L410.00,149.10 L410.50,152.98 L411.00,156.39 L411.50,158.92 L412.00,161.07 L412.50,162.93 L413.00,164.44 L413.50,165.50 L414.00,166.25 L414.50,166.89 L415.00,167.43 L415.50,167.88 L416.00,168.27 L416.50,168.60 L417.00,168.89 L417.50,169.15 L418.00,169.38 L418.50,169.59 L419.00,169.78 L419.50,169.96 L420.00,170.14 L420.50,170.32 L421.00,170.50 L421.50,170.69 L422.00,170.87 L422.50,171.04 L423.00,171.22 L423.50,171.39 L424.00,171.55 L424.50,171.72 L425.00,171.88 L425.50,172.04 L426.00,172.19 L426.50,172.35 L427.00,172.50 L427.50,172.65 L428.00,172.80 L428.50,172.94 L429.00,173.08 L429.50,173.22 L430.00,173.35 L430.50,173.49 L431.00,173.62 L431.50,173.76 L432.00,173.90 L432.50,174.04 L433.00,174.18 L433.50,174.31 L434.00,174.45 L434.50,174.59 L435.00,174.72 L435.50,174.86 L436.00,174.99 L436.50,175.13 L437.00,175.27 L437.50,175.41 L438.00,175.54 L438.50,175.68 L439.00,175.82 L439.50,175.96 L440.00,176.11 L440.50,176.25 L441.00,176.40 L441.50,176.55 L442.00,176.70 L442.50,176.85 L443.00,177.00 L443.50,177.16 L444.00,177.31 L444.50,177.47 L445.00,177.63 L445.50,177.79 L446.00,177.95 L446.50,178.11 L447.00,178.27 L447.50,178.44 L448.00,178.60" fill="none" stroke="#ff0000" stroke-width="1.8" stroke-linejoin="round"/>
<path d="M258.0,135.7 L448.0,177.50" fill="none" stroke="#ff28a0" stroke-width="1.8"/>
</g>
<line x1="342.5" y1="84" x2="303.67" y2="127.38" stroke="#000" stroke-width="1.3"/>
<polygon points="299.00,132.60 301.43,125.38 305.90,129.38" fill="#000"/>
<line x1="357.5" y1="84" x2="374.50" y2="126.50" stroke="#000" stroke-width="1.3"/>
<polygon points="377.10,133.00 371.71,127.61 377.29,125.39" fill="#000"/>
<rect x="21.4" y="32.6" width="191.1" height="155.9" fill="none" stroke="#000" stroke-width="1.3"/>
<path d="M34.4,188.5 v-3.2 M34.4,32.6 v2 M100.4,188.5 v-3.2 M100.4,32.6 v2 M166.4,188.5 v-3.2 M166.4,32.6 v2 M67.4,188.5 v-1.7 M67.4,32.6 v1.5 M133.4,188.5 v-1.7 M133.4,32.6 v1.5 M199.4,188.5 v-1.7 M199.4,32.6 v1.5 M21.4,39.3 h3.2 M212.5,39.3 h-3.2 M21.4,73.2 h3.2 M212.5,73.2 h-3.2 M21.4,107.1 h3.2 M212.5,107.1 h-3.2 M21.4,141 h3.2 M212.5,141 h-3.2 M21.4,175.1 h3.2 M212.5,175.1 h-3.2 M21.4,56.2 h2 M212.5,56.2 h-2 M21.4,90.1 h2 M212.5,90.1 h-2 M21.4,124 h2 M212.5,124 h-2 M21.4,158.2 h2 M212.5,158.2 h-2" stroke="#000" stroke-width="1" fill="none"/>
<rect x="257.85" y="31.9" width="190.75" height="155.2" fill="none" stroke="#000" stroke-width="1.3"/>
<path d="M270.7,187.1 v-3.2 M270.7,31.9 v2 M336.9,187.1 v-3.2 M336.9,31.9 v2 M403,187.1 v-3.2 M403,31.9 v2 M303.8,187.1 v-1.7 M303.8,31.9 v1.5 M370,187.1 v-1.7 M370,31.9 v1.5 M436.1,187.1 v-1.7 M436.1,31.9 v1.5 M257.85,61 h3.2 M448.6,61 h-3.2 M257.85,90.1 h3.2 M448.6,90.1 h-3.2 M257.85,119.2 h3.2 M448.6,119.2 h-3.2 M257.85,148.3 h3.2 M448.6,148.3 h-3.2 M257.85,177.4 h3.2 M448.6,177.4 h-3.2 M257.85,46.45 h2 M448.6,46.45 h-2 M257.85,75.55 h2 M448.6,75.55 h-2 M257.85,104.65 h2 M448.6,104.65 h-2 M257.85,133.75 h2 M448.6,133.75 h-2 M257.85,162.85 h2 M448.6,162.85 h-2" stroke="#000" stroke-width="1" fill="none"/>
<line x1="23.2" y1="42.6" x2="57" y2="42.6" stroke="#0000ff" stroke-width="1.9"/>
<line x1="23.2" y1="61.9" x2="57" y2="61.9" stroke="#ff28a0" stroke-width="1.9"/>
<line x1="105.1" y1="42.6" x2="138.3" y2="42.6" stroke="#008000" stroke-width="1.9"/>
<text x="60.0" y="47.3" font-size="13.6" text-anchor="start" >Mn</text>
<text x="84.5" y="41.9" font-size="9.8" text-anchor="start" stroke="#000" stroke-width="0.25">3+</text>
<text x="95.4" y="47.3" font-size="13.6" text-anchor="start" >;</text>
<text x="142" y="47.3" font-size="13.6" text-anchor="start" >Mn</text>
<text x="165.9" y="41.7" font-size="9.8" text-anchor="start" stroke="#000" stroke-width="0.25">4+</text>
<text x="60.0" y="66.6" font-size="13.6" text-anchor="start" >Mn</text>
<text x="84.9" y="61.9" font-size="9.8" text-anchor="start" stroke="#000" stroke-width="0.25">2+</text>
<line x1="260.2" y1="42.6" x2="292.9" y2="42.6" stroke="#0000ff" stroke-width="1.9"/>
<line x1="260.2" y1="61.9" x2="292.9" y2="61.9" stroke="#ff28a0" stroke-width="1.9"/>
<line x1="338" y1="42.6" x2="371" y2="42.6" stroke="#008000" stroke-width="1.9"/>
<text x="296.3" y="47.3" font-size="13.6" text-anchor="start" >Mn</text>
<text x="320.8" y="41.9" font-size="9.8" text-anchor="start" stroke="#000" stroke-width="0.25">3+</text>
<text x="331.5" y="47.3" font-size="13.6" text-anchor="start" >;</text>
<text x="374.75" y="47.3" font-size="13.6" text-anchor="start" >Mn</text>
<text x="399.6" y="41.7" font-size="9.8" text-anchor="start" stroke="#000" stroke-width="0.25">4+</text>
<text x="296.3" y="66.6" font-size="13.6" text-anchor="start" >Mn</text>
<text x="321.2" y="61.9" font-size="9.8" text-anchor="start" stroke="#000" stroke-width="0.25">2+</text>
<text x="49" y="96.5" font-size="16.4">2p<tspan font-size="11.6" dx="0.3" dy="4.8" stroke="#000" stroke-width="0.2">1/2</tspan></text>
<text x="157.9" y="75.0" font-size="16.4">2p<tspan font-size="11.6" dx="0.3" dy="5.3" stroke="#000" stroke-width="0.2">3/2</tspan></text>
<text x="91.5" y="88.9" font-size="16.1" text-anchor="start" >satellite</text>
<text x="291.4" y="87.1" font-size="16.4">2p<tspan font-size="11.6" dx="0.3" dy="5.3" stroke="#000" stroke-width="0.2">1/2</tspan></text>
<text x="388.4" y="67.5" font-size="16.4">2p<tspan font-size="11.6" dx="0.3" dy="4.0" stroke="#000" stroke-width="0.2">3/2</tspan></text>
<text x="328.1" y="81.4" font-size="15.6" text-anchor="start" >satellite</text>
<text x="184.2" y="54.9" font-size="20.5" text-anchor="start" >(b)</text>
<text x="421" y="53.75" font-size="20" text-anchor="start" >(e)</text>
<text x="61.9" y="179.7" font-size="17.3" text-anchor="start" >Mn 2p</text>
<text x="289.6" y="180" font-size="17.3" text-anchor="start" >Mn 2p</text>
<text x="34.4" y="205" font-size="16.5" text-anchor="middle" >660</text>
<text x="100.4" y="205" font-size="16.5" text-anchor="middle" >650</text>
<text x="166.4" y="205" font-size="16.5" text-anchor="middle" >640</text>
<text x="270.9" y="203.7" font-size="16.5" text-anchor="middle" >660</text>
<text x="337" y="203.7" font-size="16.5" text-anchor="middle" >650</text>
<text x="403" y="203.7" font-size="16.5" text-anchor="middle" >640</text>
<text x="117.1" y="222.9" font-size="16.6" text-anchor="middle" >B.E. (eV)</text>
<text x="347.0" y="222.2" font-size="16.6" text-anchor="middle" >B.E. (eV)</text>
<text transform="translate(10.3,34.0) rotate(-90)" font-size="17.35" text-anchor="end">Intensity (arb. units)</text>
<text transform="translate(248,33.4) rotate(-90)" font-size="17.35" text-anchor="end">Intensity (arb. units)</text>
<text transform="translate(10.3,233.4) rotate(-90)" font-size="17.35" text-anchor="end">Intensity (arb. units)</text>
<text transform="translate(248,233.0) rotate(-90)" font-size="17.35" text-anchor="end">Intensity (arb. units)</text>
<rect x="31.1" y="234.7" width="37.7" height="20" fill="#fdf97c"/>
<rect x="270.75" y="235.75" width="37" height="20" fill="#efaaf1"/>
<text x="34.6" y="252.3" font-size="17" text-anchor="start" >O 1s</text>
<text x="273.25" y="252.8" font-size="17" text-anchor="start" >O 1s</text>
<rect x="21.4" y="232.35" width="191.2" height="40" fill="none" stroke="#000" stroke-width="1.3"/>
<rect x="257.9" y="230.2" width="195" height="40" fill="none" stroke="#000" stroke-width="1.3"/>
<path d="M29.3,232.35 v2.4 M64.7,232.35 v2.4 M100.1,232.35 v2.4 M135.3,232.35 v2.4 M170.6,232.35 v2.4 M205.9,232.35 v2.4 M266.3,230.2 v2.4 M301.7,230.2 v2.4 M337.0,230.2 v2.4 M372.4,230.2 v2.4 M408.1,230.2 v2.4 M444.1,230.2 v2.4 M21.4,239.8 h2.6 M212.6,239.8 h-2.6 M257.9,238.5 h2.6" stroke="#000" stroke-width="1" fill="none"/>
<text x="187" y="256.5" font-size="20.5" text-anchor="start" >(c)</text>
<text x="428.6" y="254" font-size="20.5" text-anchor="start" >(f)</text>
<g fill="#000"><circle cx="138.5" cy="243.4" r="1.5"/><circle cx="139.9" cy="245.6" r="1.3"/><circle cx="140.9" cy="248.6" r="1.3"/><circle cx="137.3" cy="245.6" r="1.2"/><circle cx="136.4" cy="249.5" r="1.1"/><circle cx="141.4" cy="251.6" r="1.1"/></g>
<path d="M136.1,253 L138.4,244 L140.8,253" fill="none" stroke="#ff0000" stroke-width="1.8" stroke-linejoin="round"/>
<path d="M137.6,253 L138.6,247.4 L139.6,253" fill="none" stroke="#0000ff" stroke-width="1.1"/>
<circle cx="374.4" cy="251.2" r="1.2" fill="#000"/>
</svg>
</body></html>
